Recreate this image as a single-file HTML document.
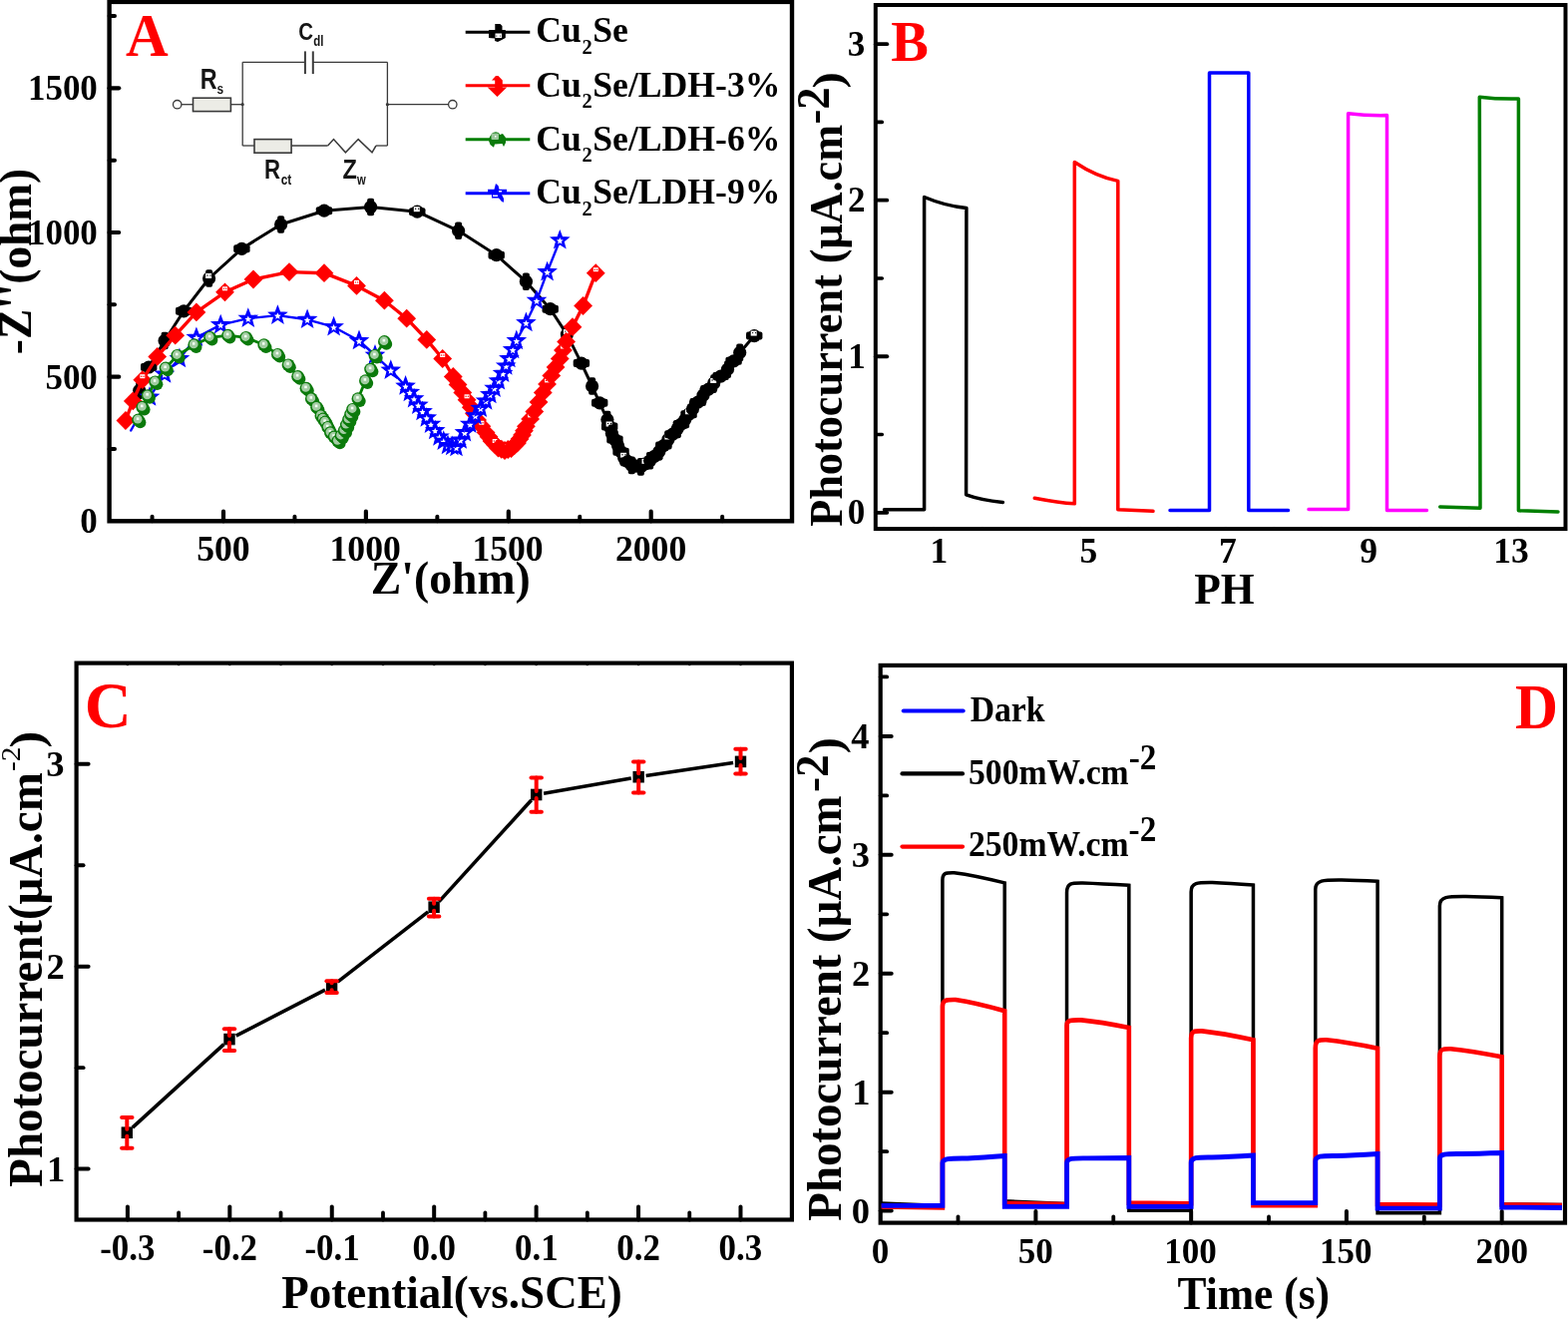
<!DOCTYPE html>
<html><head><meta charset="utf-8"><title>Figure</title>
<style>html,body{margin:0;padding:0;background:#fff;overflow:hidden;}svg{display:block;}</style></head>
<body><svg width="1572" height="1322" viewBox="0 0 1572 1322">
<rect width="1572" height="1322" fill="#fff"/>
<rect x="109.6" y="1.9" width="684.4" height="520.4" fill="none" stroke="#000" stroke-width="4.4" stroke-linejoin="miter"/>
<line x1="109.6" y1="377.65" x2="119.2" y2="377.65" stroke="#000" stroke-width="4.2" stroke-linecap="round"/>
<line x1="109.6" y1="233" x2="119.2" y2="233" stroke="#000" stroke-width="4.2" stroke-linecap="round"/>
<line x1="109.6" y1="88.35" x2="119.2" y2="88.35" stroke="#000" stroke-width="4.2" stroke-linecap="round"/>
<line x1="109.6" y1="449.97" x2="115" y2="449.97" stroke="#000" stroke-width="4" stroke-linecap="round"/>
<line x1="109.6" y1="305.32" x2="115" y2="305.32" stroke="#000" stroke-width="4" stroke-linecap="round"/>
<line x1="109.6" y1="160.67" x2="115" y2="160.67" stroke="#000" stroke-width="4" stroke-linecap="round"/>
<line x1="109.6" y1="16.02" x2="115" y2="16.02" stroke="#000" stroke-width="4" stroke-linecap="round"/>
<line x1="224" y1="522.3" x2="224" y2="512.7" stroke="#000" stroke-width="4.2" stroke-linecap="round"/>
<line x1="366.9" y1="522.3" x2="366.9" y2="512.7" stroke="#000" stroke-width="4.2" stroke-linecap="round"/>
<line x1="509.8" y1="522.3" x2="509.8" y2="512.7" stroke="#000" stroke-width="4.2" stroke-linecap="round"/>
<line x1="652.7" y1="522.3" x2="652.7" y2="512.7" stroke="#000" stroke-width="4.2" stroke-linecap="round"/>
<line x1="152.55" y1="522.3" x2="152.55" y2="517.7" stroke="#000" stroke-width="4" stroke-linecap="round"/>
<line x1="295.45" y1="522.3" x2="295.45" y2="517.7" stroke="#000" stroke-width="4" stroke-linecap="round"/>
<line x1="438.35" y1="522.3" x2="438.35" y2="517.7" stroke="#000" stroke-width="4" stroke-linecap="round"/>
<line x1="581.25" y1="522.3" x2="581.25" y2="517.7" stroke="#000" stroke-width="4" stroke-linecap="round"/>
<line x1="724.15" y1="522.3" x2="724.15" y2="517.7" stroke="#000" stroke-width="4" stroke-linecap="round"/>
<text x="80.37" y="534.3" font-family="'Liberation Serif', 'Times New Roman', serif" font-weight="bold" font-size="36" fill="#000" textLength="17.46" lengthAdjust="spacingAndGlyphs">0</text>
<text x="45.45" y="389.65" font-family="'Liberation Serif', 'Times New Roman', serif" font-weight="bold" font-size="36" fill="#000" textLength="52.38" lengthAdjust="spacingAndGlyphs">500</text>
<text x="27.99" y="245" font-family="'Liberation Serif', 'Times New Roman', serif" font-weight="bold" font-size="36" fill="#000" textLength="69.84" lengthAdjust="spacingAndGlyphs">1000</text>
<text x="27.99" y="100.35" font-family="'Liberation Serif', 'Times New Roman', serif" font-weight="bold" font-size="36" fill="#000" textLength="69.84" lengthAdjust="spacingAndGlyphs">1500</text>
<text x="197.24" y="561.5" font-family="'Liberation Serif', 'Times New Roman', serif" font-weight="bold" font-size="36" fill="#000" textLength="53.46" lengthAdjust="spacingAndGlyphs">500</text>
<text x="330.51" y="561.5" font-family="'Liberation Serif', 'Times New Roman', serif" font-weight="bold" font-size="36" fill="#000" textLength="71.28" lengthAdjust="spacingAndGlyphs">1000</text>
<text x="473.41" y="561.5" font-family="'Liberation Serif', 'Times New Roman', serif" font-weight="bold" font-size="36" fill="#000" textLength="71.28" lengthAdjust="spacingAndGlyphs">1500</text>
<text x="616.99" y="561.5" font-family="'Liberation Serif', 'Times New Roman', serif" font-weight="bold" font-size="36" fill="#000" textLength="71.28" lengthAdjust="spacingAndGlyphs">2000</text>
<text x="371.81" y="595.3" font-family="'Liberation Serif', 'Times New Roman', serif" font-weight="bold" font-size="45.5" fill="#000" textLength="160" lengthAdjust="spacingAndGlyphs">Z'(ohm)</text>
<g transform="translate(30.6,353.5) rotate(-90)">
<text x="-1.66" y="0" font-family="'Liberation Serif', 'Times New Roman', serif" font-weight="bold" font-size="45.5" fill="#000" textLength="186.25" lengthAdjust="spacingAndGlyphs">-Z''(ohm)</text>
</g>
<text x="126.12" y="56" font-family="'Liberation Serif', 'Times New Roman', serif" font-weight="bold" font-size="60.5" fill="#f00" textLength="42.71" lengthAdjust="spacingAndGlyphs">A</text>
<path d="M139.7 391.3 L149.2 368 L165.1 341.5 L184.2 311.8 L209.6 279 L242.4 249.3 L281.6 225 L325 211.2 L371.6 207.5 L418.3 212.2 L459.6 231.3 L497.7 255.7 L527.4 282.2 L551.7 309.7 L568.4 335.1 L582.9 364.1 L593.6 387 L601.2 403.8 L608.9 420.6 L613.4 434.4 L619.5 446.6 L625.6 458.8 L633.3 466.4 L642.4 467.9 L651.6 461.8 L660.8 452.7 L669.9 440.5 L679.1 429.8 L686.7 420.6 L694.4 409.9 L705 396.2 L715.7 384 L729.5 370.2 L741.7 353.4 L756.2 336.6" stroke="#000" stroke-width="3" fill="none" stroke-linejoin="round" stroke-linecap="round" />
<circle cx="139.7" cy="391.3" r="6.6" fill="#000"/>
<rect x="136.2" y="382.5" width="7" height="17.6" rx="2" fill="#000"/>
<circle cx="149.2" cy="368" r="6.6" fill="#000"/>
<rect x="141" y="364" width="16.4" height="8" rx="2" fill="#000"/>
<circle cx="165.1" cy="341.5" r="6.6" fill="#000"/>
<rect x="161.6" y="332.7" width="7" height="17.6" rx="2" fill="#000"/>
<circle cx="184.2" cy="311.8" r="6.6" fill="#000"/>
<rect x="176" y="307.8" width="16.4" height="8" rx="2" fill="#000"/>
<circle cx="209.6" cy="279" r="6.6" fill="#000"/>
<rect x="206.1" y="270.2" width="7" height="17.6" rx="2" fill="#000"/>
<rect x="206.1" y="274" width="6" height="5" fill="#fff"/><circle cx="208" cy="276" r="0.7" fill="#000"/><circle cx="211" cy="276" r="0.7" fill="#000"/>
<circle cx="242.4" cy="249.3" r="6.6" fill="#000"/>
<rect x="234.2" y="245.3" width="16.4" height="8" rx="2" fill="#000"/>
<circle cx="281.6" cy="225" r="6.6" fill="#000"/>
<rect x="278.1" y="216.2" width="7" height="17.6" rx="2" fill="#000"/>
<circle cx="325" cy="211.2" r="6.6" fill="#000"/>
<rect x="316.8" y="207.2" width="16.4" height="8" rx="2" fill="#000"/>
<circle cx="371.6" cy="207.5" r="6.6" fill="#000"/>
<rect x="368.1" y="198.7" width="7" height="17.6" rx="2" fill="#000"/>
<circle cx="418.3" cy="212.2" r="6.6" fill="#000"/>
<rect x="410.1" y="208.2" width="16.4" height="8" rx="2" fill="#000"/>
<rect x="414.8" y="207.2" width="6" height="5" fill="#fff"/><circle cx="416.7" cy="209.2" r="0.7" fill="#000"/><circle cx="419.7" cy="209.2" r="0.7" fill="#000"/>
<circle cx="459.6" cy="231.3" r="6.6" fill="#000"/>
<rect x="456.1" y="222.5" width="7" height="17.6" rx="2" fill="#000"/>
<circle cx="497.7" cy="255.7" r="6.6" fill="#000"/>
<rect x="489.5" y="251.7" width="16.4" height="8" rx="2" fill="#000"/>
<circle cx="527.4" cy="282.2" r="6.6" fill="#000"/>
<rect x="523.9" y="273.4" width="7" height="17.6" rx="2" fill="#000"/>
<circle cx="551.7" cy="309.7" r="6.6" fill="#000"/>
<rect x="543.5" y="305.7" width="16.4" height="8" rx="2" fill="#000"/>
<circle cx="568.4" cy="335.1" r="6.6" fill="#000"/>
<rect x="564.9" y="326.3" width="7" height="17.6" rx="2" fill="#000"/>
<rect x="564.9" y="330.1" width="6" height="5" fill="#fff"/><circle cx="566.8" cy="332.1" r="0.7" fill="#000"/><circle cx="569.8" cy="332.1" r="0.7" fill="#000"/>
<circle cx="582.9" cy="364.1" r="6.6" fill="#000"/>
<rect x="574.7" y="360.1" width="16.4" height="8" rx="2" fill="#000"/>
<circle cx="593.6" cy="387" r="6.6" fill="#000"/>
<rect x="590.1" y="378.2" width="7" height="17.6" rx="2" fill="#000"/>
<circle cx="601.2" cy="403.8" r="6.6" fill="#000"/>
<rect x="593" y="399.8" width="16.4" height="8" rx="2" fill="#000"/>
<circle cx="608.9" cy="420.6" r="6.6" fill="#000"/>
<rect x="605.4" y="411.8" width="7" height="17.6" rx="2" fill="#000"/>
<circle cx="611.15" cy="427.5" r="6.6" fill="#000"/>
<rect x="602.95" y="423.5" width="16.4" height="8" rx="2" fill="#000"/>
<rect x="607.65" y="422.5" width="6" height="5" fill="#fff"/><circle cx="609.55" cy="424.5" r="0.7" fill="#000"/><circle cx="612.55" cy="424.5" r="0.7" fill="#000"/>
<circle cx="613.4" cy="434.4" r="6.6" fill="#000"/>
<rect x="609.9" y="425.6" width="7" height="17.6" rx="2" fill="#000"/>
<circle cx="616.45" cy="440.5" r="6.6" fill="#000"/>
<rect x="608.25" y="436.5" width="16.4" height="8" rx="2" fill="#000"/>
<circle cx="619.5" cy="446.6" r="6.6" fill="#000"/>
<rect x="616" y="437.8" width="7" height="17.6" rx="2" fill="#000"/>
<circle cx="622.55" cy="452.7" r="6.6" fill="#000"/>
<rect x="614.35" y="448.7" width="16.4" height="8" rx="2" fill="#000"/>
<circle cx="625.6" cy="458.8" r="6.6" fill="#000"/>
<rect x="622.1" y="450" width="7" height="17.6" rx="2" fill="#000"/>
<rect x="622.1" y="453.8" width="6" height="5" fill="#fff"/><circle cx="624" cy="455.8" r="0.7" fill="#000"/><circle cx="627" cy="455.8" r="0.7" fill="#000"/>
<circle cx="629.45" cy="462.6" r="6.6" fill="#000"/>
<rect x="621.25" y="458.6" width="16.4" height="8" rx="2" fill="#000"/>
<circle cx="633.3" cy="466.4" r="6.6" fill="#000"/>
<rect x="629.8" y="457.6" width="7" height="17.6" rx="2" fill="#000"/>
<circle cx="637.85" cy="467.15" r="6.6" fill="#000"/>
<rect x="629.65" y="463.15" width="16.4" height="8" rx="2" fill="#000"/>
<circle cx="642.4" cy="467.9" r="6.6" fill="#000"/>
<rect x="638.9" y="459.1" width="7" height="17.6" rx="2" fill="#000"/>
<circle cx="647" cy="464.85" r="6.6" fill="#000"/>
<rect x="638.8" y="460.85" width="16.4" height="8" rx="2" fill="#000"/>
<rect x="643.5" y="459.85" width="6" height="5" fill="#fff"/><circle cx="645.4" cy="461.85" r="0.7" fill="#000"/><circle cx="648.4" cy="461.85" r="0.7" fill="#000"/>
<circle cx="651.6" cy="461.8" r="6.6" fill="#000"/>
<rect x="648.1" y="453" width="7" height="17.6" rx="2" fill="#000"/>
<circle cx="656.2" cy="457.25" r="6.6" fill="#000"/>
<rect x="648" y="453.25" width="16.4" height="8" rx="2" fill="#000"/>
<circle cx="660.8" cy="452.7" r="6.6" fill="#000"/>
<rect x="657.3" y="443.9" width="7" height="17.6" rx="2" fill="#000"/>
<circle cx="665.35" cy="446.6" r="6.6" fill="#000"/>
<rect x="657.15" y="442.6" width="16.4" height="8" rx="2" fill="#000"/>
<circle cx="669.9" cy="440.5" r="6.6" fill="#000"/>
<rect x="666.4" y="431.7" width="7" height="17.6" rx="2" fill="#000"/>
<rect x="666.4" y="435.5" width="6" height="5" fill="#fff"/><circle cx="668.3" cy="437.5" r="0.7" fill="#000"/><circle cx="671.3" cy="437.5" r="0.7" fill="#000"/>
<circle cx="674.5" cy="435.15" r="6.6" fill="#000"/>
<rect x="666.3" y="431.15" width="16.4" height="8" rx="2" fill="#000"/>
<circle cx="679.1" cy="429.8" r="6.6" fill="#000"/>
<rect x="675.6" y="421" width="7" height="17.6" rx="2" fill="#000"/>
<circle cx="682.9" cy="425.2" r="6.6" fill="#000"/>
<rect x="674.7" y="421.2" width="16.4" height="8" rx="2" fill="#000"/>
<circle cx="686.7" cy="420.6" r="6.6" fill="#000"/>
<rect x="683.2" y="411.8" width="7" height="17.6" rx="2" fill="#000"/>
<circle cx="690.55" cy="415.25" r="6.6" fill="#000"/>
<rect x="682.35" y="411.25" width="16.4" height="8" rx="2" fill="#000"/>
<rect x="687.05" y="410.25" width="6" height="5" fill="#fff"/><circle cx="688.95" cy="412.25" r="0.7" fill="#000"/><circle cx="691.95" cy="412.25" r="0.7" fill="#000"/>
<circle cx="694.4" cy="409.9" r="6.6" fill="#000"/>
<rect x="690.9" y="401.1" width="7" height="17.6" rx="2" fill="#000"/>
<circle cx="699.7" cy="403.05" r="6.6" fill="#000"/>
<rect x="691.5" y="399.05" width="16.4" height="8" rx="2" fill="#000"/>
<circle cx="705" cy="396.2" r="6.6" fill="#000"/>
<rect x="701.5" y="387.4" width="7" height="17.6" rx="2" fill="#000"/>
<circle cx="710.35" cy="390.1" r="6.6" fill="#000"/>
<rect x="702.15" y="386.1" width="16.4" height="8" rx="2" fill="#000"/>
<circle cx="715.7" cy="384" r="6.6" fill="#000"/>
<rect x="712.2" y="375.2" width="7" height="17.6" rx="2" fill="#000"/>
<rect x="712.2" y="379" width="6" height="5" fill="#fff"/><circle cx="714.1" cy="381" r="0.7" fill="#000"/><circle cx="717.1" cy="381" r="0.7" fill="#000"/>
<circle cx="722.6" cy="377.1" r="6.6" fill="#000"/>
<rect x="714.4" y="373.1" width="16.4" height="8" rx="2" fill="#000"/>
<circle cx="729.5" cy="370.2" r="6.6" fill="#000"/>
<rect x="726" y="361.4" width="7" height="17.6" rx="2" fill="#000"/>
<circle cx="735.6" cy="361.8" r="6.6" fill="#000"/>
<rect x="727.4" y="357.8" width="16.4" height="8" rx="2" fill="#000"/>
<circle cx="741.7" cy="353.4" r="6.6" fill="#000"/>
<rect x="738.2" y="344.6" width="7" height="17.6" rx="2" fill="#000"/>
<circle cx="756.2" cy="336.6" r="6.6" fill="#000"/>
<rect x="748" y="332.6" width="16.4" height="8" rx="2" fill="#000"/>
<rect x="752.7" y="331.6" width="6" height="5" fill="#fff"/><circle cx="754.6" cy="333.6" r="0.7" fill="#000"/><circle cx="757.6" cy="333.6" r="0.7" fill="#000"/>
<path d="M125.9 421.5 L133.3 401.9 L142.8 380.7 L157.7 357.4 L175.7 336.2 L196.9 312.9 L225.5 292.8 L254 280 L290 272.6 L325 273.7 L357.5 286.4 L385.4 301.2 L407.7 319.2 L427.8 340.4 L443.7 359.5 L454.3 377.5 L463.8 393.4 L472.3 408.2 L478.6 420.9 L487.1 433.6 L493 442 L499.5 449 L506 451.5 L512.5 449.5 L518.5 444 L523.5 436 L527.4 427.3 L535.8 412.5 L544.3 393.4 L552.8 376.4 L561.3 359.5 L567.6 342.5 L574 327.7 L584.6 306.5 L597.3 273.7" stroke="#f00" stroke-width="3.4" fill="none" stroke-linejoin="round" stroke-linecap="round" />
<path d="M125.9 412.1 L135.3 421.5 L125.9 430.9 L116.5 421.5 Z" fill="#f00"/>
<path d="M133.3 392.5 L142.7 401.9 L133.3 411.3 L123.9 401.9 Z" fill="#f00"/>
<path d="M142.8 371.3 L152.2 380.7 L142.8 390.1 L133.4 380.7 Z" fill="#f00"/>
<rect x="140.3" y="375.2" width="5" height="4" fill="#fff"/><circle cx="141.8" cy="377.2" r="0.7" fill="#f00"/><circle cx="144" cy="377.2" r="0.7" fill="#f00"/>
<path d="M157.7 348 L167.1 357.4 L157.7 366.8 L148.3 357.4 Z" fill="#f00"/>
<path d="M175.7 326.8 L185.1 336.2 L175.7 345.6 L166.3 336.2 Z" fill="#f00"/>
<path d="M196.9 303.5 L206.3 312.9 L196.9 322.3 L187.5 312.9 Z" fill="#f00"/>
<path d="M225.5 283.4 L234.9 292.8 L225.5 302.2 L216.1 292.8 Z" fill="#f00"/>
<rect x="223" y="287.3" width="5" height="4" fill="#fff"/><circle cx="224.5" cy="289.3" r="0.7" fill="#f00"/><circle cx="226.7" cy="289.3" r="0.7" fill="#f00"/>
<path d="M254 270.6 L263.4 280 L254 289.4 L244.6 280 Z" fill="#f00"/>
<path d="M290 263.2 L299.4 272.6 L290 282 L280.6 272.6 Z" fill="#f00"/>
<path d="M325 264.3 L334.4 273.7 L325 283.1 L315.6 273.7 Z" fill="#f00"/>
<path d="M357.5 277 L366.9 286.4 L357.5 295.8 L348.1 286.4 Z" fill="#f00"/>
<rect x="355" y="280.9" width="5" height="4" fill="#fff"/><circle cx="356.5" cy="282.9" r="0.7" fill="#f00"/><circle cx="358.7" cy="282.9" r="0.7" fill="#f00"/>
<path d="M385.4 291.8 L394.8 301.2 L385.4 310.6 L376 301.2 Z" fill="#f00"/>
<path d="M407.7 309.8 L417.1 319.2 L407.7 328.6 L398.3 319.2 Z" fill="#f00"/>
<path d="M427.8 331 L437.2 340.4 L427.8 349.8 L418.4 340.4 Z" fill="#f00"/>
<path d="M443.7 350.1 L453.1 359.5 L443.7 368.9 L434.3 359.5 Z" fill="#f00"/>
<rect x="441.2" y="354" width="5" height="4" fill="#fff"/><circle cx="442.7" cy="356" r="0.7" fill="#f00"/><circle cx="444.9" cy="356" r="0.7" fill="#f00"/>
<path d="M454.3 368.1 L463.7 377.5 L454.3 386.9 L444.9 377.5 Z" fill="#f00"/>
<path d="M459.05 376.05 L468.45 385.45 L459.05 394.85 L449.65 385.45 Z" fill="#f00"/>
<path d="M463.8 384 L473.2 393.4 L463.8 402.8 L454.4 393.4 Z" fill="#f00"/>
<path d="M468.05 391.4 L477.45 400.8 L468.05 410.2 L458.65 400.8 Z" fill="#f00"/>
<rect x="465.55" y="395.3" width="5" height="4" fill="#fff"/><circle cx="467.05" cy="397.3" r="0.7" fill="#f00"/><circle cx="469.25" cy="397.3" r="0.7" fill="#f00"/>
<path d="M472.3 398.8 L481.7 408.2 L472.3 417.6 L462.9 408.2 Z" fill="#f00"/>
<path d="M475.45 405.15 L484.85 414.55 L475.45 423.95 L466.05 414.55 Z" fill="#f00"/>
<path d="M478.6 411.5 L488 420.9 L478.6 430.3 L469.2 420.9 Z" fill="#f00"/>
<path d="M482.85 417.85 L492.25 427.25 L482.85 436.65 L473.45 427.25 Z" fill="#f00"/>
<rect x="480.35" y="421.75" width="5" height="4" fill="#fff"/><circle cx="481.85" cy="423.75" r="0.7" fill="#f00"/><circle cx="484.05" cy="423.75" r="0.7" fill="#f00"/>
<path d="M487.1 424.2 L496.5 433.6 L487.1 443 L477.7 433.6 Z" fill="#f00"/>
<path d="M490.05 428.4 L499.45 437.8 L490.05 447.2 L480.65 437.8 Z" fill="#f00"/>
<path d="M493 432.6 L502.4 442 L493 451.4 L483.6 442 Z" fill="#f00"/>
<path d="M496.25 436.1 L505.65 445.5 L496.25 454.9 L486.85 445.5 Z" fill="#f00"/>
<rect x="493.75" y="440" width="5" height="4" fill="#fff"/><circle cx="495.25" cy="442" r="0.7" fill="#f00"/><circle cx="497.45" cy="442" r="0.7" fill="#f00"/>
<path d="M499.5 439.6 L508.9 449 L499.5 458.4 L490.1 449 Z" fill="#f00"/>
<path d="M502.75 440.85 L512.15 450.25 L502.75 459.65 L493.35 450.25 Z" fill="#f00"/>
<path d="M506 442.1 L515.4 451.5 L506 460.9 L496.6 451.5 Z" fill="#f00"/>
<path d="M509.25 441.1 L518.65 450.5 L509.25 459.9 L499.85 450.5 Z" fill="#f00"/>
<rect x="506.75" y="445" width="5" height="4" fill="#fff"/><circle cx="508.25" cy="447" r="0.7" fill="#f00"/><circle cx="510.45" cy="447" r="0.7" fill="#f00"/>
<path d="M512.5 440.1 L521.9 449.5 L512.5 458.9 L503.1 449.5 Z" fill="#f00"/>
<path d="M515.5 437.35 L524.9 446.75 L515.5 456.15 L506.1 446.75 Z" fill="#f00"/>
<path d="M518.5 434.6 L527.9 444 L518.5 453.4 L509.1 444 Z" fill="#f00"/>
<path d="M521 430.6 L530.4 440 L521 449.4 L511.6 440 Z" fill="#f00"/>
<rect x="518.5" y="434.5" width="5" height="4" fill="#fff"/><circle cx="520" cy="436.5" r="0.7" fill="#f00"/><circle cx="522.2" cy="436.5" r="0.7" fill="#f00"/>
<path d="M523.5 426.6 L532.9 436 L523.5 445.4 L514.1 436 Z" fill="#f00"/>
<path d="M525.45 422.25 L534.85 431.65 L525.45 441.05 L516.05 431.65 Z" fill="#f00"/>
<path d="M527.4 417.9 L536.8 427.3 L527.4 436.7 L518 427.3 Z" fill="#f00"/>
<path d="M531.6 410.5 L541 419.9 L531.6 429.3 L522.2 419.9 Z" fill="#f00"/>
<rect x="529.1" y="414.4" width="5" height="4" fill="#fff"/><circle cx="530.6" cy="416.4" r="0.7" fill="#f00"/><circle cx="532.8" cy="416.4" r="0.7" fill="#f00"/>
<path d="M535.8 403.1 L545.2 412.5 L535.8 421.9 L526.4 412.5 Z" fill="#f00"/>
<path d="M540.05 393.55 L549.45 402.95 L540.05 412.35 L530.65 402.95 Z" fill="#f00"/>
<path d="M544.3 384 L553.7 393.4 L544.3 402.8 L534.9 393.4 Z" fill="#f00"/>
<path d="M548.55 375.5 L557.95 384.9 L548.55 394.3 L539.15 384.9 Z" fill="#f00"/>
<rect x="546.05" y="379.4" width="5" height="4" fill="#fff"/><circle cx="547.55" cy="381.4" r="0.7" fill="#f00"/><circle cx="549.75" cy="381.4" r="0.7" fill="#f00"/>
<path d="M552.8 367 L562.2 376.4 L552.8 385.8 L543.4 376.4 Z" fill="#f00"/>
<path d="M557.05 358.55 L566.45 367.95 L557.05 377.35 L547.65 367.95 Z" fill="#f00"/>
<path d="M561.3 350.1 L570.7 359.5 L561.3 368.9 L551.9 359.5 Z" fill="#f00"/>
<path d="M564.45 341.6 L573.85 351 L564.45 360.4 L555.05 351 Z" fill="#f00"/>
<rect x="561.95" y="345.5" width="5" height="4" fill="#fff"/><circle cx="563.45" cy="347.5" r="0.7" fill="#f00"/><circle cx="565.65" cy="347.5" r="0.7" fill="#f00"/>
<path d="M567.6 333.1 L577 342.5 L567.6 351.9 L558.2 342.5 Z" fill="#f00"/>
<path d="M574 318.3 L583.4 327.7 L574 337.1 L564.6 327.7 Z" fill="#f00"/>
<path d="M584.6 297.1 L594 306.5 L584.6 315.9 L575.2 306.5 Z" fill="#f00"/>
<path d="M597.3 264.3 L606.7 273.7 L597.3 283.1 L587.9 273.7 Z" fill="#f00"/>
<rect x="594.8" y="268.2" width="5" height="4" fill="#fff"/><circle cx="596.3" cy="270.2" r="0.7" fill="#f00"/><circle cx="598.5" cy="270.2" r="0.7" fill="#f00"/>
<path d="M131.2 431.5 L150 398 L165 375 L179.9 359.5 L196.9 338.3 L221.2 325.6 L248.8 319.2 L278.4 316.1 L308.1 320.3 L334.6 327.7 L360 341.5 L376 356 L391.8 371.1 L406.6 387 L415.1 399.7 L423.6 412.5 L432 425.2 L440.5 437.9 L449 446.4 L457.5 448.5 L465.9 433.6 L476.5 416.7 L487.1 401.9 L495.6 389.2 L504.1 374.3 L510.4 359.5 L517.8 341.5 L527.4 323.5 L538 301.2 L548.6 272.6 L561.3 240.8" stroke="#00f" stroke-width="2.4" fill="none" stroke-linejoin="round" stroke-linecap="round" />
<path d="M150 388.8 L152.29 394.84 L158.75 395.16 L153.71 399.21 L155.41 405.44 L150 401.9 L144.59 405.44 L146.29 399.21 L141.25 395.16 L147.71 394.84 Z" fill="#00f" stroke="#00f" stroke-width="1.2" stroke-linejoin="miter"/>
<path d="M150 395.2 L150.94 397.51 L153.42 397.69 L151.52 399.29 L152.12 401.71 L150 400.4 L147.88 401.71 L148.48 399.29 L146.58 397.69 L149.06 397.51 Z" fill="#fff"/>
<path d="M165 365.8 L167.29 371.84 L173.75 372.16 L168.71 376.21 L170.41 382.44 L165 378.9 L159.59 382.44 L161.29 376.21 L156.25 372.16 L162.71 371.84 Z" fill="#00f" stroke="#00f" stroke-width="1.2" stroke-linejoin="miter"/>
<path d="M165 372.2 L165.94 374.51 L168.42 374.69 L166.52 376.29 L167.12 378.71 L165 377.4 L162.88 378.71 L163.48 376.29 L161.58 374.69 L164.06 374.51 Z" fill="#fff"/>
<path d="M179.9 350.3 L182.19 356.34 L188.65 356.66 L183.61 360.71 L185.31 366.94 L179.9 363.4 L174.49 366.94 L176.19 360.71 L171.15 356.66 L177.61 356.34 Z" fill="#00f" stroke="#00f" stroke-width="1.2" stroke-linejoin="miter"/>
<path d="M179.9 356.7 L180.84 359.01 L183.32 359.19 L181.42 360.79 L182.02 363.21 L179.9 361.9 L177.78 363.21 L178.38 360.79 L176.48 359.19 L178.96 359.01 Z" fill="#fff"/>
<path d="M196.9 329.1 L199.19 335.14 L205.65 335.46 L200.61 339.51 L202.31 345.74 L196.9 342.2 L191.49 345.74 L193.19 339.51 L188.15 335.46 L194.61 335.14 Z" fill="#00f" stroke="#00f" stroke-width="1.2" stroke-linejoin="miter"/>
<path d="M196.9 335.5 L197.84 337.81 L200.32 337.99 L198.42 339.59 L199.02 342.01 L196.9 340.7 L194.78 342.01 L195.38 339.59 L193.48 337.99 L195.96 337.81 Z" fill="#fff"/>
<path d="M221.2 316.4 L223.49 322.44 L229.95 322.76 L224.91 326.81 L226.61 333.04 L221.2 329.5 L215.79 333.04 L217.49 326.81 L212.45 322.76 L218.91 322.44 Z" fill="#00f" stroke="#00f" stroke-width="1.2" stroke-linejoin="miter"/>
<path d="M221.2 322.8 L222.14 325.11 L224.62 325.29 L222.72 326.89 L223.32 329.31 L221.2 328 L219.08 329.31 L219.68 326.89 L217.78 325.29 L220.26 325.11 Z" fill="#fff"/>
<path d="M248.8 310 L251.09 316.04 L257.55 316.36 L252.51 320.41 L254.21 326.64 L248.8 323.1 L243.39 326.64 L245.09 320.41 L240.05 316.36 L246.51 316.04 Z" fill="#00f" stroke="#00f" stroke-width="1.2" stroke-linejoin="miter"/>
<path d="M248.8 316.4 L249.74 318.71 L252.22 318.89 L250.32 320.49 L250.92 322.91 L248.8 321.6 L246.68 322.91 L247.28 320.49 L245.38 318.89 L247.86 318.71 Z" fill="#fff"/>
<path d="M278.4 306.9 L280.69 312.94 L287.15 313.26 L282.11 317.31 L283.81 323.54 L278.4 320 L272.99 323.54 L274.69 317.31 L269.65 313.26 L276.11 312.94 Z" fill="#00f" stroke="#00f" stroke-width="1.2" stroke-linejoin="miter"/>
<path d="M278.4 313.3 L279.34 315.61 L281.82 315.79 L279.92 317.39 L280.52 319.81 L278.4 318.5 L276.28 319.81 L276.88 317.39 L274.98 315.79 L277.46 315.61 Z" fill="#fff"/>
<path d="M308.1 311.1 L310.39 317.14 L316.85 317.46 L311.81 321.51 L313.51 327.74 L308.1 324.2 L302.69 327.74 L304.39 321.51 L299.35 317.46 L305.81 317.14 Z" fill="#00f" stroke="#00f" stroke-width="1.2" stroke-linejoin="miter"/>
<path d="M308.1 317.5 L309.04 319.81 L311.52 319.99 L309.62 321.59 L310.22 324.01 L308.1 322.7 L305.98 324.01 L306.58 321.59 L304.68 319.99 L307.16 319.81 Z" fill="#fff"/>
<path d="M334.6 318.5 L336.89 324.54 L343.35 324.86 L338.31 328.91 L340.01 335.14 L334.6 331.6 L329.19 335.14 L330.89 328.91 L325.85 324.86 L332.31 324.54 Z" fill="#00f" stroke="#00f" stroke-width="1.2" stroke-linejoin="miter"/>
<path d="M334.6 324.9 L335.54 327.21 L338.02 327.39 L336.12 328.99 L336.72 331.41 L334.6 330.1 L332.48 331.41 L333.08 328.99 L331.18 327.39 L333.66 327.21 Z" fill="#fff"/>
<path d="M360 332.3 L362.29 338.34 L368.75 338.66 L363.71 342.71 L365.41 348.94 L360 345.4 L354.59 348.94 L356.29 342.71 L351.25 338.66 L357.71 338.34 Z" fill="#00f" stroke="#00f" stroke-width="1.2" stroke-linejoin="miter"/>
<path d="M360 338.7 L360.94 341.01 L363.42 341.19 L361.52 342.79 L362.12 345.21 L360 343.9 L357.88 345.21 L358.48 342.79 L356.58 341.19 L359.06 341.01 Z" fill="#fff"/>
<path d="M376 346.8 L378.29 352.84 L384.75 353.16 L379.71 357.21 L381.41 363.44 L376 359.9 L370.59 363.44 L372.29 357.21 L367.25 353.16 L373.71 352.84 Z" fill="#00f" stroke="#00f" stroke-width="1.2" stroke-linejoin="miter"/>
<path d="M376 353.2 L376.94 355.51 L379.42 355.69 L377.52 357.29 L378.12 359.71 L376 358.4 L373.88 359.71 L374.48 357.29 L372.58 355.69 L375.06 355.51 Z" fill="#fff"/>
<path d="M391.8 361.9 L394.09 367.94 L400.55 368.26 L395.51 372.31 L397.21 378.54 L391.8 375 L386.39 378.54 L388.09 372.31 L383.05 368.26 L389.51 367.94 Z" fill="#00f" stroke="#00f" stroke-width="1.2" stroke-linejoin="miter"/>
<path d="M391.8 368.3 L392.74 370.61 L395.22 370.79 L393.32 372.39 L393.92 374.81 L391.8 373.5 L389.68 374.81 L390.28 372.39 L388.38 370.79 L390.86 370.61 Z" fill="#fff"/>
<path d="M406.6 377.8 L408.89 383.84 L415.35 384.16 L410.31 388.21 L412.01 394.44 L406.6 390.9 L401.19 394.44 L402.89 388.21 L397.85 384.16 L404.31 383.84 Z" fill="#00f" stroke="#00f" stroke-width="1.2" stroke-linejoin="miter"/>
<path d="M406.6 384.2 L407.54 386.51 L410.02 386.69 L408.12 388.29 L408.72 390.71 L406.6 389.4 L404.48 390.71 L405.08 388.29 L403.18 386.69 L405.66 386.51 Z" fill="#fff"/>
<path d="M410.85 384.15 L413.14 390.19 L419.6 390.51 L414.56 394.56 L416.26 400.79 L410.85 397.25 L405.44 400.79 L407.14 394.56 L402.1 390.51 L408.56 390.19 Z" fill="#00f" stroke="#00f" stroke-width="1.2" stroke-linejoin="miter"/>
<path d="M410.85 390.55 L411.79 392.86 L414.27 393.04 L412.37 394.64 L412.97 397.06 L410.85 395.75 L408.73 397.06 L409.33 394.64 L407.43 393.04 L409.91 392.86 Z" fill="#fff"/>
<path d="M415.1 390.5 L417.39 396.54 L423.85 396.86 L418.81 400.91 L420.51 407.14 L415.1 403.6 L409.69 407.14 L411.39 400.91 L406.35 396.86 L412.81 396.54 Z" fill="#00f" stroke="#00f" stroke-width="1.2" stroke-linejoin="miter"/>
<path d="M415.1 396.9 L416.04 399.21 L418.52 399.39 L416.62 400.99 L417.22 403.41 L415.1 402.1 L412.98 403.41 L413.58 400.99 L411.68 399.39 L414.16 399.21 Z" fill="#fff"/>
<path d="M419.35 396.9 L421.64 402.94 L428.1 403.26 L423.06 407.31 L424.76 413.54 L419.35 410 L413.94 413.54 L415.64 407.31 L410.6 403.26 L417.06 402.94 Z" fill="#00f" stroke="#00f" stroke-width="1.2" stroke-linejoin="miter"/>
<path d="M419.35 403.3 L420.29 405.61 L422.77 405.79 L420.87 407.39 L421.47 409.81 L419.35 408.5 L417.23 409.81 L417.83 407.39 L415.93 405.79 L418.41 405.61 Z" fill="#fff"/>
<path d="M423.6 403.3 L425.89 409.34 L432.35 409.66 L427.31 413.71 L429.01 419.94 L423.6 416.4 L418.19 419.94 L419.89 413.71 L414.85 409.66 L421.31 409.34 Z" fill="#00f" stroke="#00f" stroke-width="1.2" stroke-linejoin="miter"/>
<path d="M423.6 409.7 L424.54 412.01 L427.02 412.19 L425.12 413.79 L425.72 416.21 L423.6 414.9 L421.48 416.21 L422.08 413.79 L420.18 412.19 L422.66 412.01 Z" fill="#fff"/>
<path d="M427.8 409.65 L430.09 415.69 L436.55 416.01 L431.51 420.06 L433.21 426.29 L427.8 422.75 L422.39 426.29 L424.09 420.06 L419.05 416.01 L425.51 415.69 Z" fill="#00f" stroke="#00f" stroke-width="1.2" stroke-linejoin="miter"/>
<path d="M427.8 416.05 L428.74 418.36 L431.22 418.54 L429.32 420.14 L429.92 422.56 L427.8 421.25 L425.68 422.56 L426.28 420.14 L424.38 418.54 L426.86 418.36 Z" fill="#fff"/>
<path d="M432 416 L434.29 422.04 L440.75 422.36 L435.71 426.41 L437.41 432.64 L432 429.1 L426.59 432.64 L428.29 426.41 L423.25 422.36 L429.71 422.04 Z" fill="#00f" stroke="#00f" stroke-width="1.2" stroke-linejoin="miter"/>
<path d="M432 422.4 L432.94 424.71 L435.42 424.89 L433.52 426.49 L434.12 428.91 L432 427.6 L429.88 428.91 L430.48 426.49 L428.58 424.89 L431.06 424.71 Z" fill="#fff"/>
<path d="M436.25 422.35 L438.54 428.39 L445 428.71 L439.96 432.76 L441.66 438.99 L436.25 435.45 L430.84 438.99 L432.54 432.76 L427.5 428.71 L433.96 428.39 Z" fill="#00f" stroke="#00f" stroke-width="1.2" stroke-linejoin="miter"/>
<path d="M436.25 428.75 L437.19 431.06 L439.67 431.24 L437.77 432.84 L438.37 435.26 L436.25 433.95 L434.13 435.26 L434.73 432.84 L432.83 431.24 L435.31 431.06 Z" fill="#fff"/>
<path d="M440.5 428.7 L442.79 434.74 L449.25 435.06 L444.21 439.11 L445.91 445.34 L440.5 441.8 L435.09 445.34 L436.79 439.11 L431.75 435.06 L438.21 434.74 Z" fill="#00f" stroke="#00f" stroke-width="1.2" stroke-linejoin="miter"/>
<path d="M440.5 435.1 L441.44 437.41 L443.92 437.59 L442.02 439.19 L442.62 441.61 L440.5 440.3 L438.38 441.61 L438.98 439.19 L437.08 437.59 L439.56 437.41 Z" fill="#fff"/>
<path d="M444.75 432.95 L447.04 438.99 L453.5 439.31 L448.46 443.36 L450.16 449.59 L444.75 446.05 L439.34 449.59 L441.04 443.36 L436 439.31 L442.46 438.99 Z" fill="#00f" stroke="#00f" stroke-width="1.2" stroke-linejoin="miter"/>
<path d="M444.75 439.35 L445.69 441.66 L448.17 441.84 L446.27 443.44 L446.87 445.86 L444.75 444.55 L442.63 445.86 L443.23 443.44 L441.33 441.84 L443.81 441.66 Z" fill="#fff"/>
<path d="M449 437.2 L451.29 443.24 L457.75 443.56 L452.71 447.61 L454.41 453.84 L449 450.3 L443.59 453.84 L445.29 447.61 L440.25 443.56 L446.71 443.24 Z" fill="#00f" stroke="#00f" stroke-width="1.2" stroke-linejoin="miter"/>
<path d="M449 443.6 L449.94 445.91 L452.42 446.09 L450.52 447.69 L451.12 450.11 L449 448.8 L446.88 450.11 L447.48 447.69 L445.58 446.09 L448.06 445.91 Z" fill="#fff"/>
<path d="M453.25 438.25 L455.54 444.29 L462 444.61 L456.96 448.66 L458.66 454.89 L453.25 451.35 L447.84 454.89 L449.54 448.66 L444.5 444.61 L450.96 444.29 Z" fill="#00f" stroke="#00f" stroke-width="1.2" stroke-linejoin="miter"/>
<path d="M453.25 444.65 L454.19 446.96 L456.67 447.14 L454.77 448.74 L455.37 451.16 L453.25 449.85 L451.13 451.16 L451.73 448.74 L449.83 447.14 L452.31 446.96 Z" fill="#fff"/>
<path d="M457.5 439.3 L459.79 445.34 L466.25 445.66 L461.21 449.71 L462.91 455.94 L457.5 452.4 L452.09 455.94 L453.79 449.71 L448.75 445.66 L455.21 445.34 Z" fill="#00f" stroke="#00f" stroke-width="1.2" stroke-linejoin="miter"/>
<path d="M457.5 445.7 L458.44 448.01 L460.92 448.19 L459.02 449.79 L459.62 452.21 L457.5 450.9 L455.38 452.21 L455.98 449.79 L454.08 448.19 L456.56 448.01 Z" fill="#fff"/>
<path d="M461.7 431.85 L463.99 437.89 L470.45 438.21 L465.41 442.26 L467.11 448.49 L461.7 444.95 L456.29 448.49 L457.99 442.26 L452.95 438.21 L459.41 437.89 Z" fill="#00f" stroke="#00f" stroke-width="1.2" stroke-linejoin="miter"/>
<path d="M461.7 438.25 L462.64 440.56 L465.12 440.74 L463.22 442.34 L463.82 444.76 L461.7 443.45 L459.58 444.76 L460.18 442.34 L458.28 440.74 L460.76 440.56 Z" fill="#fff"/>
<path d="M465.9 424.4 L468.19 430.44 L474.65 430.76 L469.61 434.81 L471.31 441.04 L465.9 437.5 L460.49 441.04 L462.19 434.81 L457.15 430.76 L463.61 430.44 Z" fill="#00f" stroke="#00f" stroke-width="1.2" stroke-linejoin="miter"/>
<path d="M465.9 430.8 L466.84 433.11 L469.32 433.29 L467.42 434.89 L468.02 437.31 L465.9 436 L463.78 437.31 L464.38 434.89 L462.48 433.29 L464.96 433.11 Z" fill="#fff"/>
<path d="M471.2 415.95 L473.49 421.99 L479.95 422.31 L474.91 426.36 L476.61 432.59 L471.2 429.05 L465.79 432.59 L467.49 426.36 L462.45 422.31 L468.91 421.99 Z" fill="#00f" stroke="#00f" stroke-width="1.2" stroke-linejoin="miter"/>
<path d="M471.2 422.35 L472.14 424.66 L474.62 424.84 L472.72 426.44 L473.32 428.86 L471.2 427.55 L469.08 428.86 L469.68 426.44 L467.78 424.84 L470.26 424.66 Z" fill="#fff"/>
<path d="M476.5 407.5 L478.79 413.54 L485.25 413.86 L480.21 417.91 L481.91 424.14 L476.5 420.6 L471.09 424.14 L472.79 417.91 L467.75 413.86 L474.21 413.54 Z" fill="#00f" stroke="#00f" stroke-width="1.2" stroke-linejoin="miter"/>
<path d="M476.5 413.9 L477.44 416.21 L479.92 416.39 L478.02 417.99 L478.62 420.41 L476.5 419.1 L474.38 420.41 L474.98 417.99 L473.08 416.39 L475.56 416.21 Z" fill="#fff"/>
<path d="M481.8 400.1 L484.09 406.14 L490.55 406.46 L485.51 410.51 L487.21 416.74 L481.8 413.2 L476.39 416.74 L478.09 410.51 L473.05 406.46 L479.51 406.14 Z" fill="#00f" stroke="#00f" stroke-width="1.2" stroke-linejoin="miter"/>
<path d="M481.8 406.5 L482.74 408.81 L485.22 408.99 L483.32 410.59 L483.92 413.01 L481.8 411.7 L479.68 413.01 L480.28 410.59 L478.38 408.99 L480.86 408.81 Z" fill="#fff"/>
<path d="M487.1 392.7 L489.39 398.74 L495.85 399.06 L490.81 403.11 L492.51 409.34 L487.1 405.8 L481.69 409.34 L483.39 403.11 L478.35 399.06 L484.81 398.74 Z" fill="#00f" stroke="#00f" stroke-width="1.2" stroke-linejoin="miter"/>
<path d="M487.1 399.1 L488.04 401.41 L490.52 401.59 L488.62 403.19 L489.22 405.61 L487.1 404.3 L484.98 405.61 L485.58 403.19 L483.68 401.59 L486.16 401.41 Z" fill="#fff"/>
<path d="M491.35 386.35 L493.64 392.39 L500.1 392.71 L495.06 396.76 L496.76 402.99 L491.35 399.45 L485.94 402.99 L487.64 396.76 L482.6 392.71 L489.06 392.39 Z" fill="#00f" stroke="#00f" stroke-width="1.2" stroke-linejoin="miter"/>
<path d="M491.35 392.75 L492.29 395.06 L494.77 395.24 L492.87 396.84 L493.47 399.26 L491.35 397.95 L489.23 399.26 L489.83 396.84 L487.93 395.24 L490.41 395.06 Z" fill="#fff"/>
<path d="M495.6 380 L497.89 386.04 L504.35 386.36 L499.31 390.41 L501.01 396.64 L495.6 393.1 L490.19 396.64 L491.89 390.41 L486.85 386.36 L493.31 386.04 Z" fill="#00f" stroke="#00f" stroke-width="1.2" stroke-linejoin="miter"/>
<path d="M495.6 386.4 L496.54 388.71 L499.02 388.89 L497.12 390.49 L497.72 392.91 L495.6 391.6 L493.48 392.91 L494.08 390.49 L492.18 388.89 L494.66 388.71 Z" fill="#fff"/>
<path d="M499.85 372.55 L502.14 378.59 L508.6 378.91 L503.56 382.96 L505.26 389.19 L499.85 385.65 L494.44 389.19 L496.14 382.96 L491.1 378.91 L497.56 378.59 Z" fill="#00f" stroke="#00f" stroke-width="1.2" stroke-linejoin="miter"/>
<path d="M499.85 378.95 L500.79 381.26 L503.27 381.44 L501.37 383.04 L501.97 385.46 L499.85 384.15 L497.73 385.46 L498.33 383.04 L496.43 381.44 L498.91 381.26 Z" fill="#fff"/>
<path d="M504.1 365.1 L506.39 371.14 L512.85 371.46 L507.81 375.51 L509.51 381.74 L504.1 378.2 L498.69 381.74 L500.39 375.51 L495.35 371.46 L501.81 371.14 Z" fill="#00f" stroke="#00f" stroke-width="1.2" stroke-linejoin="miter"/>
<path d="M504.1 371.5 L505.04 373.81 L507.52 373.99 L505.62 375.59 L506.22 378.01 L504.1 376.7 L501.98 378.01 L502.58 375.59 L500.68 373.99 L503.16 373.81 Z" fill="#fff"/>
<path d="M507.25 357.7 L509.54 363.74 L516 364.06 L510.96 368.11 L512.66 374.34 L507.25 370.8 L501.84 374.34 L503.54 368.11 L498.5 364.06 L504.96 363.74 Z" fill="#00f" stroke="#00f" stroke-width="1.2" stroke-linejoin="miter"/>
<path d="M507.25 364.1 L508.19 366.41 L510.67 366.59 L508.77 368.19 L509.37 370.61 L507.25 369.3 L505.13 370.61 L505.73 368.19 L503.83 366.59 L506.31 366.41 Z" fill="#fff"/>
<path d="M510.4 350.3 L512.69 356.34 L519.15 356.66 L514.11 360.71 L515.81 366.94 L510.4 363.4 L504.99 366.94 L506.69 360.71 L501.65 356.66 L508.11 356.34 Z" fill="#00f" stroke="#00f" stroke-width="1.2" stroke-linejoin="miter"/>
<path d="M510.4 356.7 L511.34 359.01 L513.82 359.19 L511.92 360.79 L512.52 363.21 L510.4 361.9 L508.28 363.21 L508.88 360.79 L506.98 359.19 L509.46 359.01 Z" fill="#fff"/>
<path d="M514.1 341.3 L516.39 347.34 L522.85 347.66 L517.81 351.71 L519.51 357.94 L514.1 354.4 L508.69 357.94 L510.39 351.71 L505.35 347.66 L511.81 347.34 Z" fill="#00f" stroke="#00f" stroke-width="1.2" stroke-linejoin="miter"/>
<path d="M514.1 347.7 L515.04 350.01 L517.52 350.19 L515.62 351.79 L516.22 354.21 L514.1 352.9 L511.98 354.21 L512.58 351.79 L510.68 350.19 L513.16 350.01 Z" fill="#fff"/>
<path d="M517.8 332.3 L520.09 338.34 L526.55 338.66 L521.51 342.71 L523.21 348.94 L517.8 345.4 L512.39 348.94 L514.09 342.71 L509.05 338.66 L515.51 338.34 Z" fill="#00f" stroke="#00f" stroke-width="1.2" stroke-linejoin="miter"/>
<path d="M517.8 338.7 L518.74 341.01 L521.22 341.19 L519.32 342.79 L519.92 345.21 L517.8 343.9 L515.68 345.21 L516.28 342.79 L514.38 341.19 L516.86 341.01 Z" fill="#fff"/>
<path d="M527.4 314.3 L529.69 320.34 L536.15 320.66 L531.11 324.71 L532.81 330.94 L527.4 327.4 L521.99 330.94 L523.69 324.71 L518.65 320.66 L525.11 320.34 Z" fill="#00f" stroke="#00f" stroke-width="1.2" stroke-linejoin="miter"/>
<path d="M527.4 320.7 L528.34 323.01 L530.82 323.19 L528.92 324.79 L529.52 327.21 L527.4 325.9 L525.28 327.21 L525.88 324.79 L523.98 323.19 L526.46 323.01 Z" fill="#fff"/>
<path d="M538 292 L540.29 298.04 L546.75 298.36 L541.71 302.41 L543.41 308.64 L538 305.1 L532.59 308.64 L534.29 302.41 L529.25 298.36 L535.71 298.04 Z" fill="#00f" stroke="#00f" stroke-width="1.2" stroke-linejoin="miter"/>
<path d="M538 298.4 L538.94 300.71 L541.42 300.89 L539.52 302.49 L540.12 304.91 L538 303.6 L535.88 304.91 L536.48 302.49 L534.58 300.89 L537.06 300.71 Z" fill="#fff"/>
<path d="M548.6 263.4 L550.89 269.44 L557.35 269.76 L552.31 273.81 L554.01 280.04 L548.6 276.5 L543.19 280.04 L544.89 273.81 L539.85 269.76 L546.31 269.44 Z" fill="#00f" stroke="#00f" stroke-width="1.2" stroke-linejoin="miter"/>
<path d="M548.6 269.8 L549.54 272.11 L552.02 272.29 L550.12 273.89 L550.72 276.31 L548.6 275 L546.48 276.31 L547.08 273.89 L545.18 272.29 L547.66 272.11 Z" fill="#fff"/>
<path d="M561.3 231.6 L563.59 237.64 L570.05 237.96 L565.01 242.01 L566.71 248.24 L561.3 244.7 L555.89 248.24 L557.59 242.01 L552.55 237.96 L559.01 237.64 Z" fill="#00f" stroke="#00f" stroke-width="1.2" stroke-linejoin="miter"/>
<path d="M561.3 238 L562.24 240.31 L564.72 240.49 L562.82 242.09 L563.42 244.51 L561.3 243.2 L559.18 244.51 L559.78 242.09 L557.88 240.49 L560.36 240.31 Z" fill="#fff"/>
<path d="M138.6 421 L142.8 408.2 L148.1 396.6 L155.6 382.8 L166.1 369 L177.8 356.3 L194.7 345.7 L210.6 338.3 L228.6 336.2 L246.7 338.3 L264.7 345.7 L278.4 355.3 L289 365.8 L298.6 377.5 L307 389.2 L312.3 399.7 L317.6 408.2 L321.9 416.7 L326.1 423 L331.4 433.6 L338.8 442.1 L345.2 431.5 L349.5 420.5 L353.6 410.3 L358.9 399.7 L366.4 381.7 L371.6 370.1 L375.9 356.3 L385.4 342.5" stroke="#007f00" stroke-width="2.8" fill="none" stroke-linejoin="round" stroke-linecap="round" />
<circle cx="140.6" cy="423.4" r="5.8" fill="#0b7a0b"/>
<circle cx="138.6" cy="421" r="6.4" fill="#0b7a0b"/>
<circle cx="138.1" cy="420.2" r="4.4" fill="#a3cca3"/>
<rect x="136.8" y="418.4" width="2.6" height="2.6" fill="#f4fff4"/>
<circle cx="144.8" cy="410.6" r="5.8" fill="#0b7a0b"/>
<circle cx="142.8" cy="408.2" r="6.4" fill="#0b7a0b"/>
<circle cx="142.3" cy="407.4" r="4.4" fill="#a3cca3"/>
<rect x="141" y="405.6" width="2.6" height="2.6" fill="#f4fff4"/>
<circle cx="150.1" cy="399" r="5.8" fill="#0b7a0b"/>
<circle cx="148.1" cy="396.6" r="6.4" fill="#0b7a0b"/>
<circle cx="147.6" cy="395.8" r="4.4" fill="#a3cca3"/>
<rect x="146.3" y="394" width="2.6" height="2.6" fill="#f4fff4"/>
<circle cx="157.6" cy="385.2" r="5.8" fill="#0b7a0b"/>
<circle cx="155.6" cy="382.8" r="6.4" fill="#0b7a0b"/>
<circle cx="155.1" cy="382" r="4.4" fill="#a3cca3"/>
<rect x="153.8" y="380.2" width="2.6" height="2.6" fill="#f4fff4"/>
<circle cx="168.1" cy="371.4" r="5.8" fill="#0b7a0b"/>
<circle cx="166.1" cy="369" r="6.4" fill="#0b7a0b"/>
<circle cx="165.6" cy="368.2" r="4.4" fill="#a3cca3"/>
<rect x="164.3" y="366.4" width="2.6" height="2.6" fill="#f4fff4"/>
<circle cx="179.8" cy="358.7" r="5.8" fill="#0b7a0b"/>
<circle cx="177.8" cy="356.3" r="6.4" fill="#0b7a0b"/>
<circle cx="177.3" cy="355.5" r="4.4" fill="#a3cca3"/>
<rect x="176" y="353.7" width="2.6" height="2.6" fill="#f4fff4"/>
<circle cx="196.7" cy="348.1" r="5.8" fill="#0b7a0b"/>
<circle cx="194.7" cy="345.7" r="6.4" fill="#0b7a0b"/>
<circle cx="194.2" cy="344.9" r="4.4" fill="#a3cca3"/>
<rect x="192.9" y="343.1" width="2.6" height="2.6" fill="#f4fff4"/>
<circle cx="212.6" cy="340.7" r="5.8" fill="#0b7a0b"/>
<circle cx="210.6" cy="338.3" r="6.4" fill="#0b7a0b"/>
<circle cx="210.1" cy="337.5" r="4.4" fill="#a3cca3"/>
<rect x="208.8" y="335.7" width="2.6" height="2.6" fill="#f4fff4"/>
<circle cx="230.6" cy="338.6" r="5.8" fill="#0b7a0b"/>
<circle cx="228.6" cy="336.2" r="6.4" fill="#0b7a0b"/>
<circle cx="228.1" cy="335.4" r="4.4" fill="#a3cca3"/>
<rect x="226.8" y="333.6" width="2.6" height="2.6" fill="#f4fff4"/>
<circle cx="248.7" cy="340.7" r="5.8" fill="#0b7a0b"/>
<circle cx="246.7" cy="338.3" r="6.4" fill="#0b7a0b"/>
<circle cx="246.2" cy="337.5" r="4.4" fill="#a3cca3"/>
<rect x="244.9" y="335.7" width="2.6" height="2.6" fill="#f4fff4"/>
<circle cx="266.7" cy="348.1" r="5.8" fill="#0b7a0b"/>
<circle cx="264.7" cy="345.7" r="6.4" fill="#0b7a0b"/>
<circle cx="264.2" cy="344.9" r="4.4" fill="#a3cca3"/>
<rect x="262.9" y="343.1" width="2.6" height="2.6" fill="#f4fff4"/>
<circle cx="280.4" cy="357.7" r="5.8" fill="#0b7a0b"/>
<circle cx="278.4" cy="355.3" r="6.4" fill="#0b7a0b"/>
<circle cx="277.9" cy="354.5" r="4.4" fill="#a3cca3"/>
<rect x="276.6" y="352.7" width="2.6" height="2.6" fill="#f4fff4"/>
<circle cx="291" cy="368.2" r="5.8" fill="#0b7a0b"/>
<circle cx="289" cy="365.8" r="6.4" fill="#0b7a0b"/>
<circle cx="288.5" cy="365" r="4.4" fill="#a3cca3"/>
<rect x="287.2" y="363.2" width="2.6" height="2.6" fill="#f4fff4"/>
<circle cx="300.6" cy="379.9" r="5.8" fill="#0b7a0b"/>
<circle cx="298.6" cy="377.5" r="6.4" fill="#0b7a0b"/>
<circle cx="298.1" cy="376.7" r="4.4" fill="#a3cca3"/>
<rect x="296.8" y="374.9" width="2.6" height="2.6" fill="#f4fff4"/>
<circle cx="309" cy="391.6" r="5.8" fill="#0b7a0b"/>
<circle cx="307" cy="389.2" r="6.4" fill="#0b7a0b"/>
<circle cx="306.5" cy="388.4" r="4.4" fill="#a3cca3"/>
<rect x="305.2" y="386.6" width="2.6" height="2.6" fill="#f4fff4"/>
<circle cx="314.3" cy="402.1" r="5.8" fill="#0b7a0b"/>
<circle cx="312.3" cy="399.7" r="6.4" fill="#0b7a0b"/>
<circle cx="311.8" cy="398.9" r="4.4" fill="#a3cca3"/>
<rect x="310.5" y="397.1" width="2.6" height="2.6" fill="#f4fff4"/>
<circle cx="319.6" cy="410.6" r="5.8" fill="#0b7a0b"/>
<circle cx="317.6" cy="408.2" r="6.4" fill="#0b7a0b"/>
<circle cx="317.1" cy="407.4" r="4.4" fill="#a3cca3"/>
<rect x="315.8" y="405.6" width="2.6" height="2.6" fill="#f4fff4"/>
<circle cx="323.9" cy="419.1" r="5.8" fill="#0b7a0b"/>
<circle cx="321.9" cy="416.7" r="6.4" fill="#0b7a0b"/>
<circle cx="321.4" cy="415.9" r="4.4" fill="#a3cca3"/>
<rect x="320.1" y="414.1" width="2.6" height="2.6" fill="#f4fff4"/>
<circle cx="326" cy="422.25" r="5.8" fill="#0b7a0b"/>
<circle cx="324" cy="419.85" r="6.4" fill="#0b7a0b"/>
<circle cx="323.5" cy="419.05" r="4.4" fill="#a3cca3"/>
<rect x="322.2" y="417.25" width="2.6" height="2.6" fill="#f4fff4"/>
<circle cx="328.1" cy="425.4" r="5.8" fill="#0b7a0b"/>
<circle cx="326.1" cy="423" r="6.4" fill="#0b7a0b"/>
<circle cx="325.6" cy="422.2" r="4.4" fill="#a3cca3"/>
<rect x="324.3" y="420.4" width="2.6" height="2.6" fill="#f4fff4"/>
<circle cx="330.75" cy="430.7" r="5.8" fill="#0b7a0b"/>
<circle cx="328.75" cy="428.3" r="6.4" fill="#0b7a0b"/>
<circle cx="328.25" cy="427.5" r="4.4" fill="#a3cca3"/>
<rect x="326.95" y="425.7" width="2.6" height="2.6" fill="#f4fff4"/>
<circle cx="333.4" cy="436" r="5.8" fill="#0b7a0b"/>
<circle cx="331.4" cy="433.6" r="6.4" fill="#0b7a0b"/>
<circle cx="330.9" cy="432.8" r="4.4" fill="#a3cca3"/>
<rect x="329.6" y="431" width="2.6" height="2.6" fill="#f4fff4"/>
<circle cx="337.1" cy="440.25" r="5.8" fill="#0b7a0b"/>
<circle cx="335.1" cy="437.85" r="6.4" fill="#0b7a0b"/>
<circle cx="334.6" cy="437.05" r="4.4" fill="#a3cca3"/>
<rect x="333.3" y="435.25" width="2.6" height="2.6" fill="#f4fff4"/>
<circle cx="340.8" cy="444.5" r="5.8" fill="#0b7a0b"/>
<circle cx="338.8" cy="442.1" r="6.4" fill="#0b7a0b"/>
<circle cx="338.3" cy="441.3" r="4.4" fill="#a3cca3"/>
<rect x="337" y="439.5" width="2.6" height="2.6" fill="#f4fff4"/>
<circle cx="344" cy="439.2" r="5.8" fill="#0b7a0b"/>
<circle cx="342" cy="436.8" r="6.4" fill="#0b7a0b"/>
<circle cx="341.5" cy="436" r="4.4" fill="#a3cca3"/>
<rect x="340.2" y="434.2" width="2.6" height="2.6" fill="#f4fff4"/>
<circle cx="347.2" cy="433.9" r="5.8" fill="#0b7a0b"/>
<circle cx="345.2" cy="431.5" r="6.4" fill="#0b7a0b"/>
<circle cx="344.7" cy="430.7" r="4.4" fill="#a3cca3"/>
<rect x="343.4" y="428.9" width="2.6" height="2.6" fill="#f4fff4"/>
<circle cx="349.35" cy="428.4" r="5.8" fill="#0b7a0b"/>
<circle cx="347.35" cy="426" r="6.4" fill="#0b7a0b"/>
<circle cx="346.85" cy="425.2" r="4.4" fill="#a3cca3"/>
<rect x="345.55" y="423.4" width="2.6" height="2.6" fill="#f4fff4"/>
<circle cx="351.5" cy="422.9" r="5.8" fill="#0b7a0b"/>
<circle cx="349.5" cy="420.5" r="6.4" fill="#0b7a0b"/>
<circle cx="349" cy="419.7" r="4.4" fill="#a3cca3"/>
<rect x="347.7" y="417.9" width="2.6" height="2.6" fill="#f4fff4"/>
<circle cx="353.55" cy="417.8" r="5.8" fill="#0b7a0b"/>
<circle cx="351.55" cy="415.4" r="6.4" fill="#0b7a0b"/>
<circle cx="351.05" cy="414.6" r="4.4" fill="#a3cca3"/>
<rect x="349.75" y="412.8" width="2.6" height="2.6" fill="#f4fff4"/>
<circle cx="355.6" cy="412.7" r="5.8" fill="#0b7a0b"/>
<circle cx="353.6" cy="410.3" r="6.4" fill="#0b7a0b"/>
<circle cx="353.1" cy="409.5" r="4.4" fill="#a3cca3"/>
<rect x="351.8" y="407.7" width="2.6" height="2.6" fill="#f4fff4"/>
<circle cx="360.9" cy="402.1" r="5.8" fill="#0b7a0b"/>
<circle cx="358.9" cy="399.7" r="6.4" fill="#0b7a0b"/>
<circle cx="358.4" cy="398.9" r="4.4" fill="#a3cca3"/>
<rect x="357.1" y="397.1" width="2.6" height="2.6" fill="#f4fff4"/>
<circle cx="368.4" cy="384.1" r="5.8" fill="#0b7a0b"/>
<circle cx="366.4" cy="381.7" r="6.4" fill="#0b7a0b"/>
<circle cx="365.9" cy="380.9" r="4.4" fill="#a3cca3"/>
<rect x="364.6" y="379.1" width="2.6" height="2.6" fill="#f4fff4"/>
<circle cx="373.6" cy="372.5" r="5.8" fill="#0b7a0b"/>
<circle cx="371.6" cy="370.1" r="6.4" fill="#0b7a0b"/>
<circle cx="371.1" cy="369.3" r="4.4" fill="#a3cca3"/>
<rect x="369.8" y="367.5" width="2.6" height="2.6" fill="#f4fff4"/>
<circle cx="377.9" cy="358.7" r="5.8" fill="#0b7a0b"/>
<circle cx="375.9" cy="356.3" r="6.4" fill="#0b7a0b"/>
<circle cx="375.4" cy="355.5" r="4.4" fill="#a3cca3"/>
<rect x="374.1" y="353.7" width="2.6" height="2.6" fill="#f4fff4"/>
<circle cx="387.4" cy="344.9" r="5.8" fill="#0b7a0b"/>
<circle cx="385.4" cy="342.5" r="6.4" fill="#0b7a0b"/>
<circle cx="384.9" cy="341.7" r="4.4" fill="#a3cca3"/>
<rect x="383.6" y="339.9" width="2.6" height="2.6" fill="#f4fff4"/>
<g>
<line x1="182" y1="104.7" x2="193.5" y2="104.7" stroke="#3a3a3a" stroke-width="1.3" stroke-linecap="butt"/>
<line x1="231.4" y1="104.7" x2="243.2" y2="104.7" stroke="#3a3a3a" stroke-width="1.3" stroke-linecap="butt"/>
<line x1="243.2" y1="62.3" x2="243.2" y2="146" stroke="#3a3a3a" stroke-width="1.3" stroke-linecap="butt"/>
<line x1="243.2" y1="62.3" x2="305.9" y2="62.3" stroke="#3a3a3a" stroke-width="1.3" stroke-linecap="butt"/>
<line x1="313.8" y1="62.3" x2="388.4" y2="62.3" stroke="#3a3a3a" stroke-width="1.3" stroke-linecap="butt"/>
<line x1="388.4" y1="62.3" x2="388.4" y2="146" stroke="#3a3a3a" stroke-width="1.3" stroke-linecap="butt"/>
<line x1="388.4" y1="104.7" x2="449.5" y2="104.7" stroke="#3a3a3a" stroke-width="1.3" stroke-linecap="butt"/>
<line x1="243.2" y1="146" x2="255" y2="146" stroke="#3a3a3a" stroke-width="1.3" stroke-linecap="butt"/>
<line x1="292.1" y1="146" x2="328.6" y2="146" stroke="#3a3a3a" stroke-width="1.3" stroke-linecap="butt"/>
<line x1="377" y1="146" x2="388.4" y2="146" stroke="#3a3a3a" stroke-width="1.3" stroke-linecap="butt"/>
<line x1="305.9" y1="51.4" x2="305.9" y2="74.1" stroke="#3a3a3a" stroke-width="2" stroke-linecap="butt"/>
<line x1="313.8" y1="51.4" x2="313.8" y2="74.1" stroke="#3a3a3a" stroke-width="2" stroke-linecap="butt"/>
<rect x="193.5" y="98.2" width="37.9" height="13.4" fill="#ecece6" stroke="#3a3a3a" stroke-width="1.6"/>
<rect x="255" y="139.6" width="37.1" height="13.6" fill="#ecece6" stroke="#3a3a3a" stroke-width="1.6"/>
<path d="M328.6 146 L334.5 139.6 L346.4 152.8 L359.2 139.6 L373 152.8 L377 146" stroke="#3a3a3a" stroke-width="1.5" fill="none" stroke-linejoin="miter" stroke-linecap="butt" />
<circle cx="177.7" cy="104.7" r="4.2" fill="#fff" stroke="#3a3a3a" stroke-width="1.3"/>
<circle cx="453.8" cy="104.7" r="4.2" fill="#fff" stroke="#3a3a3a" stroke-width="1.3"/>
<circle cx="243.2" cy="104.7" r="1.6" fill="#3a3a3a"/>
<circle cx="388.4" cy="104.7" r="1.6" fill="#3a3a3a"/>
<text x="299.16" y="40.37" font-family="'Liberation Sans', Arial, sans-serif" font-weight="bold" font-size="23.73" fill="#151515" textLength="14.8" lengthAdjust="spacingAndGlyphs">C</text>
<text x="314.33" y="46.36" font-family="'Liberation Sans', Arial, sans-serif" font-weight="bold" font-size="14.84" fill="#151515" textLength="10.18" lengthAdjust="spacingAndGlyphs">dl</text>
<text x="200.84" y="88.9" font-family="'Liberation Sans', Arial, sans-serif" font-weight="bold" font-size="28.63" fill="#151515" textLength="16.84" lengthAdjust="spacingAndGlyphs">R</text>
<text x="217.38" y="93.66" font-family="'Liberation Sans', Arial, sans-serif" font-weight="bold" font-size="14.41" fill="#151515" textLength="6.6" lengthAdjust="spacingAndGlyphs">s</text>
<text x="265.01" y="178.6" font-family="'Liberation Sans', Arial, sans-serif" font-weight="bold" font-size="27.18" fill="#151515" textLength="16.04" lengthAdjust="spacingAndGlyphs">R</text>
<text x="281.64" y="184.55" font-family="'Liberation Sans', Arial, sans-serif" font-weight="bold" font-size="15.56" fill="#151515" textLength="10.51" lengthAdjust="spacingAndGlyphs">ct</text>
<text x="343.6" y="178.6" font-family="'Liberation Sans', Arial, sans-serif" font-weight="bold" font-size="27.18" fill="#151515" textLength="14.38" lengthAdjust="spacingAndGlyphs">Z</text>
<text x="358.03" y="184.7" font-family="'Liberation Sans', Arial, sans-serif" font-weight="bold" font-size="14.39" fill="#151515" textLength="8.75" lengthAdjust="spacingAndGlyphs">w</text>
</g>
<line x1="466.7" y1="32.3" x2="531.3" y2="32.3" stroke="#000" stroke-width="3" stroke-linecap="butt"/>
<g transform="translate(539.1,0) scale(0.977,1) translate(-539.1,0)"><text x="537.32" y="42.4" font-family="'Liberation Serif', 'Times New Roman', serif" font-weight="bold" font-size="36.5" fill="#000">Cu<tspan font-size="21" dy="11.7" dx="0.5">2</tspan><tspan dy="-11.7" dx="0.6">Se</tspan></text></g>
<line x1="466.7" y1="85.7" x2="531.3" y2="85.7" stroke="#f00" stroke-width="3" stroke-linecap="butt"/>
<g transform="translate(539.1,0) scale(0.977,1) translate(-539.1,0)"><text x="537.32" y="96.6" font-family="'Liberation Serif', 'Times New Roman', serif" font-weight="bold" font-size="36.5" fill="#000">Cu<tspan font-size="21" dy="11.7" dx="0.5">2</tspan><tspan dy="-11.7" dx="0.6">Se/LDH-3%</tspan></text></g>
<line x1="466.7" y1="139.8" x2="531.3" y2="139.8" stroke="#007f00" stroke-width="3" stroke-linecap="butt"/>
<g transform="translate(539.1,0) scale(0.977,1) translate(-539.1,0)"><text x="537.32" y="150.6" font-family="'Liberation Serif', 'Times New Roman', serif" font-weight="bold" font-size="36.5" fill="#000">Cu<tspan font-size="21" dy="11.7" dx="0.5">2</tspan><tspan dy="-11.7" dx="0.6">Se/LDH-6%</tspan></text></g>
<line x1="466.7" y1="193.7" x2="531.3" y2="193.7" stroke="#00f" stroke-width="3" stroke-linecap="butt"/>
<g transform="translate(539.1,0) scale(0.977,1) translate(-539.1,0)"><text x="537.32" y="204.4" font-family="'Liberation Serif', 'Times New Roman', serif" font-weight="bold" font-size="36.5" fill="#000">Cu<tspan font-size="21" dy="11.7" dx="0.5">2</tspan><tspan dy="-11.7" dx="0.6">Se/LDH-9%</tspan></text></g>
<path d="M496.3 24 L501.5 24 L503.5 26 L503.5 30 L506.8 30 L506.8 38 L503 40 L499 42 L496 41 L496 38.5 L490 38 L490 30 L496.3 30 Z" fill="#000"/>
<rect x="496.5" y="33.5" width="6.5" height="4.5" fill="#fff"/><circle cx="497.8" cy="36" r="0.6" fill="#000"/><circle cx="501.6" cy="36" r="0.6" fill="#000"/>
<path d="M488.7 87.5 L508.2 87.5 L498.5 97 Z M493 80.6 L497 75.9 L499.5 75.9 L503.8 80.4 L503.8 87.5 L496.2 87.5 L496.2 80.6 Z" fill="#f00"/>
<path d="M491 137 L494 133 L497 132.2 L500 133 L501 135 L504 134 L507 138 L507 143 L505 147 L503.5 144 L496 144.5 L495 147.7 L491.5 145 L490 141 Z" fill="#0b7a0b"/>
<rect x="492.5" y="133.5" width="7.5" height="6.5" rx="1" fill="#9cc79c"/><rect x="496" y="136" width="1.5" height="1.5" fill="#fff"/>
<path d="M497 184 L499.5 186 L500.5 189.8 L508 189.8 L508 194.5 L503 195 L505 199 L505 202.7 L503 202 L500 198.5 L493 198.5 L493 194.5 L489 194.5 L489 189.8 L495.5 189.8 Z" fill="#00f"/>
<rect x="500" y="191" width="3" height="1.5" fill="#fff"/><rect x="494" y="195.5" width="5" height="1.5" fill="#fff"/>
<rect x="877.8" y="5" width="691.7" height="525.1" fill="none" stroke="#000" stroke-width="4" stroke-linejoin="miter"/>
<line x1="877.8" y1="513.8" x2="889.3" y2="513.8" stroke="#000" stroke-width="3.8" stroke-linecap="round"/>
<line x1="877.8" y1="357.25" x2="889.3" y2="357.25" stroke="#000" stroke-width="3.8" stroke-linecap="round"/>
<line x1="877.8" y1="200.7" x2="889.3" y2="200.7" stroke="#000" stroke-width="3.8" stroke-linecap="round"/>
<line x1="877.8" y1="44.15" x2="889.3" y2="44.15" stroke="#000" stroke-width="3.8" stroke-linecap="round"/>
<line x1="877.8" y1="435.52" x2="884.3" y2="435.52" stroke="#000" stroke-width="3.6" stroke-linecap="round"/>
<line x1="877.8" y1="278.97" x2="884.3" y2="278.97" stroke="#000" stroke-width="3.6" stroke-linecap="round"/>
<line x1="877.8" y1="122.42" x2="884.3" y2="122.42" stroke="#000" stroke-width="3.6" stroke-linecap="round"/>
<line x1="886.5" y1="530.1" x2="886.5" y2="529.1" stroke="#000" stroke-width="2.4" stroke-linecap="round"/>
<line x1="935.9" y1="530.1" x2="935.9" y2="529.1" stroke="#000" stroke-width="2.4" stroke-linecap="round"/>
<line x1="984.9" y1="530.1" x2="984.9" y2="529.1" stroke="#000" stroke-width="2.4" stroke-linecap="round"/>
<line x1="1034.3" y1="530.1" x2="1034.3" y2="529.1" stroke="#000" stroke-width="2.4" stroke-linecap="round"/>
<line x1="1082.6" y1="530.1" x2="1082.6" y2="529.1" stroke="#000" stroke-width="2.4" stroke-linecap="round"/>
<line x1="1131" y1="530.1" x2="1131" y2="529.1" stroke="#000" stroke-width="2.4" stroke-linecap="round"/>
<line x1="1180.6" y1="530.1" x2="1180.6" y2="529.1" stroke="#000" stroke-width="2.4" stroke-linecap="round"/>
<line x1="1228.8" y1="530.1" x2="1228.8" y2="529.1" stroke="#000" stroke-width="2.4" stroke-linecap="round"/>
<line x1="1277.4" y1="530.1" x2="1277.4" y2="529.1" stroke="#000" stroke-width="2.4" stroke-linecap="round"/>
<line x1="1324.7" y1="530.1" x2="1324.7" y2="529.1" stroke="#000" stroke-width="2.4" stroke-linecap="round"/>
<line x1="1374.6" y1="530.1" x2="1374.6" y2="529.1" stroke="#000" stroke-width="2.4" stroke-linecap="round"/>
<line x1="1423.2" y1="530.1" x2="1423.2" y2="529.1" stroke="#000" stroke-width="2.4" stroke-linecap="round"/>
<line x1="1473" y1="530.1" x2="1473" y2="529.1" stroke="#000" stroke-width="2.4" stroke-linecap="round"/>
<line x1="1521.7" y1="530.1" x2="1521.7" y2="529.1" stroke="#000" stroke-width="2.4" stroke-linecap="round"/>
<text x="849.83" y="525.4" font-family="'Liberation Serif', 'Times New Roman', serif" font-weight="bold" font-size="35" fill="#000">0</text>
<text x="850.31" y="368.85" font-family="'Liberation Serif', 'Times New Roman', serif" font-weight="bold" font-size="35" fill="#000">1</text>
<text x="850" y="212.3" font-family="'Liberation Serif', 'Times New Roman', serif" font-weight="bold" font-size="35" fill="#000">2</text>
<text x="849.7" y="55.75" font-family="'Liberation Serif', 'Times New Roman', serif" font-weight="bold" font-size="35" fill="#000">3</text>
<text x="932.52" y="564.2" font-family="'Liberation Serif', 'Times New Roman', serif" font-weight="bold" font-size="35.5" fill="#000">1</text>
<text x="1082.56" y="564.2" font-family="'Liberation Serif', 'Times New Roman', serif" font-weight="bold" font-size="35.5" fill="#000">5</text>
<text x="1221.94" y="564.2" font-family="'Liberation Serif', 'Times New Roman', serif" font-weight="bold" font-size="35.5" fill="#000">7</text>
<text x="1363.28" y="564.2" font-family="'Liberation Serif', 'Times New Roman', serif" font-weight="bold" font-size="35.5" fill="#000">9</text>
<text x="1497.24" y="564.2" font-family="'Liberation Serif', 'Times New Roman', serif" font-weight="bold" font-size="35.5" fill="#000">13</text>
<text x="1197.26" y="604.9" font-family="'Liberation Serif', 'Times New Roman', serif" font-weight="bold" font-size="44" fill="#000" textLength="60.47" lengthAdjust="spacingAndGlyphs">PH</text>
<text x="893.36" y="60.6" font-family="'Liberation Serif', 'Times New Roman', serif" font-weight="bold" font-size="57" fill="#f00" textLength="37.61" lengthAdjust="spacingAndGlyphs">B</text>
<g transform="translate(843.5,527.1) rotate(-90)">
<text x="-0.76" y="0" font-family="'Liberation Serif', 'Times New Roman', serif" font-weight="bold" font-size="45.5" fill="#000" textLength="403.01" lengthAdjust="spacingAndGlyphs">Photocurrent (μA.cm</text>
</g>
<g transform="translate(830.6,122.9) rotate(-90)">
<text x="-1.63" y="0" font-family="'Liberation Serif', 'Times New Roman', serif" font-weight="bold" font-size="46" fill="#000" textLength="37.15" lengthAdjust="spacingAndGlyphs">-2</text>
</g>
<g transform="translate(843.5,86.8) rotate(-90)">
<text x="-1.59" y="0" font-family="'Liberation Serif', 'Times New Roman', serif" font-weight="bold" font-size="43" fill="#000" textLength="16.47" lengthAdjust="spacingAndGlyphs">)</text>
</g>
<path d="M886.5 510.7 L926.6 510.7 L926.6 197.5 C936 201.5 950 206.5 968.9 208.6 L968.6 495.8 C980 500 992 502 1005.4 503.4" stroke="#000" stroke-width="3.5" fill="none" stroke-linejoin="round" stroke-linecap="round" />
<path d="M1037.3 499.2 C1052 502 1064 504 1077.3 504.8 L1077.3 162.5 C1090 171 1104 178 1120.8 181.4 L1120.8 510.7 L1156 512.3" stroke="#f00" stroke-width="3.5" fill="none" stroke-linejoin="round" stroke-linecap="round" />
<path d="M1173 511.6 L1212.5 511.5 L1212.5 73 L1251.8 72.9 L1251.8 511.5 L1291.5 511.5" stroke="#00f" stroke-width="3.5" fill="none" stroke-linejoin="round" stroke-linecap="round" />
<path d="M1312 510.5 L1351.6 510.5 L1351.6 113.8 Q1370 116 1390.5 115.6 L1390.5 511.5 L1430.4 511.5" stroke="#f0f" stroke-width="3.5" fill="none" stroke-linejoin="round" stroke-linecap="round" />
<path d="M1443.7 508 L1484 509.2 L1483.3 97.2 Q1502 99.5 1522.4 99 L1522.4 511.8 L1562 513" stroke="#007f00" stroke-width="3.5" fill="none" stroke-linejoin="round" stroke-linecap="round" />
<rect x="76.6" y="664.6" width="717.3" height="557.9" fill="none" stroke="#000" stroke-width="4.2" stroke-linejoin="miter"/>
<line x1="76.6" y1="1171.6" x2="88.6" y2="1171.6" stroke="#000" stroke-width="4" stroke-linecap="round"/>
<line x1="76.6" y1="968.7" x2="88.6" y2="968.7" stroke="#000" stroke-width="4" stroke-linecap="round"/>
<line x1="76.6" y1="765.8" x2="88.6" y2="765.8" stroke="#000" stroke-width="4" stroke-linecap="round"/>
<line x1="76.6" y1="1070.15" x2="83.6" y2="1070.15" stroke="#000" stroke-width="3.8" stroke-linecap="round"/>
<line x1="76.6" y1="867.25" x2="83.6" y2="867.25" stroke="#000" stroke-width="3.8" stroke-linecap="round"/>
<line x1="127.9" y1="1222.5" x2="127.9" y2="1209.5" stroke="#000" stroke-width="4" stroke-linecap="round"/>
<line x1="127.9" y1="664.6" x2="127.9" y2="666.1" stroke="#000" stroke-width="2.5" stroke-linecap="round"/>
<line x1="230.33" y1="1222.5" x2="230.33" y2="1209.5" stroke="#000" stroke-width="4" stroke-linecap="round"/>
<line x1="230.33" y1="664.6" x2="230.33" y2="666.1" stroke="#000" stroke-width="2.5" stroke-linecap="round"/>
<line x1="332.76" y1="1222.5" x2="332.76" y2="1209.5" stroke="#000" stroke-width="4" stroke-linecap="round"/>
<line x1="332.76" y1="664.6" x2="332.76" y2="666.1" stroke="#000" stroke-width="2.5" stroke-linecap="round"/>
<line x1="435.19" y1="1222.5" x2="435.19" y2="1209.5" stroke="#000" stroke-width="4" stroke-linecap="round"/>
<line x1="435.19" y1="664.6" x2="435.19" y2="666.1" stroke="#000" stroke-width="2.5" stroke-linecap="round"/>
<line x1="537.62" y1="1222.5" x2="537.62" y2="1209.5" stroke="#000" stroke-width="4" stroke-linecap="round"/>
<line x1="537.62" y1="664.6" x2="537.62" y2="666.1" stroke="#000" stroke-width="2.5" stroke-linecap="round"/>
<line x1="640.05" y1="1222.5" x2="640.05" y2="1209.5" stroke="#000" stroke-width="4" stroke-linecap="round"/>
<line x1="640.05" y1="664.6" x2="640.05" y2="666.1" stroke="#000" stroke-width="2.5" stroke-linecap="round"/>
<line x1="742.48" y1="1222.5" x2="742.48" y2="1209.5" stroke="#000" stroke-width="4" stroke-linecap="round"/>
<line x1="742.48" y1="664.6" x2="742.48" y2="666.1" stroke="#000" stroke-width="2.5" stroke-linecap="round"/>
<line x1="179.12" y1="1222.5" x2="179.12" y2="1215.5" stroke="#000" stroke-width="3.8" stroke-linecap="round"/>
<line x1="179.12" y1="664.6" x2="179.12" y2="666.1" stroke="#000" stroke-width="2.5" stroke-linecap="round"/>
<line x1="281.54" y1="1222.5" x2="281.54" y2="1215.5" stroke="#000" stroke-width="3.8" stroke-linecap="round"/>
<line x1="281.54" y1="664.6" x2="281.54" y2="666.1" stroke="#000" stroke-width="2.5" stroke-linecap="round"/>
<line x1="383.98" y1="1222.5" x2="383.98" y2="1215.5" stroke="#000" stroke-width="3.8" stroke-linecap="round"/>
<line x1="383.98" y1="664.6" x2="383.98" y2="666.1" stroke="#000" stroke-width="2.5" stroke-linecap="round"/>
<line x1="486.4" y1="1222.5" x2="486.4" y2="1215.5" stroke="#000" stroke-width="3.8" stroke-linecap="round"/>
<line x1="486.4" y1="664.6" x2="486.4" y2="666.1" stroke="#000" stroke-width="2.5" stroke-linecap="round"/>
<line x1="588.83" y1="1222.5" x2="588.83" y2="1215.5" stroke="#000" stroke-width="3.8" stroke-linecap="round"/>
<line x1="588.83" y1="664.6" x2="588.83" y2="666.1" stroke="#000" stroke-width="2.5" stroke-linecap="round"/>
<line x1="691.26" y1="1222.5" x2="691.26" y2="1215.5" stroke="#000" stroke-width="3.8" stroke-linecap="round"/>
<line x1="691.26" y1="664.6" x2="691.26" y2="666.1" stroke="#000" stroke-width="2.5" stroke-linecap="round"/>
<text x="46.94" y="1183.9" font-family="'Liberation Serif', 'Times New Roman', serif" font-weight="bold" font-size="36.5" fill="#000">1</text>
<text x="46.62" y="981" font-family="'Liberation Serif', 'Times New Roman', serif" font-weight="bold" font-size="36.5" fill="#000">2</text>
<text x="46.3" y="778.1" font-family="'Liberation Serif', 'Times New Roman', serif" font-weight="bold" font-size="36.5" fill="#000">3</text>
<text x="100.25" y="1262.8" font-family="'Liberation Serif', 'Times New Roman', serif" font-weight="bold" font-size="37.5" fill="#000" textLength="55.21" lengthAdjust="spacingAndGlyphs">-0.3</text>
<text x="202.84" y="1262.8" font-family="'Liberation Serif', 'Times New Roman', serif" font-weight="bold" font-size="37.5" fill="#000" textLength="55.21" lengthAdjust="spacingAndGlyphs">-0.2</text>
<text x="305.42" y="1262.8" font-family="'Liberation Serif', 'Times New Roman', serif" font-weight="bold" font-size="37.5" fill="#000" textLength="55.21" lengthAdjust="spacingAndGlyphs">-0.1</text>
<text x="413.39" y="1262.8" font-family="'Liberation Serif', 'Times New Roman', serif" font-weight="bold" font-size="37.5" fill="#000" textLength="43.59" lengthAdjust="spacingAndGlyphs">0.0</text>
<text x="516.06" y="1262.8" font-family="'Liberation Serif', 'Times New Roman', serif" font-weight="bold" font-size="37.5" fill="#000" textLength="43.59" lengthAdjust="spacingAndGlyphs">0.1</text>
<text x="618.34" y="1262.8" font-family="'Liberation Serif', 'Times New Roman', serif" font-weight="bold" font-size="37.5" fill="#000" textLength="43.59" lengthAdjust="spacingAndGlyphs">0.2</text>
<text x="720.62" y="1262.8" font-family="'Liberation Serif', 'Times New Roman', serif" font-weight="bold" font-size="37.5" fill="#000" textLength="43.59" lengthAdjust="spacingAndGlyphs">0.3</text>
<text x="282.13" y="1311.3" font-family="'Liberation Serif', 'Times New Roman', serif" font-weight="bold" font-size="46.5" fill="#000" textLength="341.65" lengthAdjust="spacingAndGlyphs">Potential(vs.SCE)</text>
<text x="84.64" y="729" font-family="'Liberation Serif', 'Times New Roman', serif" font-weight="bold" font-size="65" fill="#f00">C</text>
<g transform="translate(41.5,1189) rotate(-90)">
<text x="-0.8" y="0" font-family="'Liberation Serif', 'Times New Roman', serif" font-weight="bold" font-size="48" fill="#000" textLength="415.6" lengthAdjust="spacingAndGlyphs">Photocurrent(μA.cm</text>
</g>
<g transform="translate(19.7,772) rotate(-90)">
<text x="-1.09" y="0" font-family="'Liberation Serif', 'Times New Roman', serif" font-weight="normal" font-size="28" fill="#000" textLength="24.52" lengthAdjust="spacingAndGlyphs">-2</text>
</g>
<g transform="translate(41.5,748.1) rotate(-90)">
<text x="-1.66" y="0" font-family="'Liberation Serif', 'Times New Roman', serif" font-weight="bold" font-size="46" fill="#000" textLength="17.11" lengthAdjust="spacingAndGlyphs">)</text>
</g>
<line x1="132.84" y1="1130.15" x2="224.46" y2="1046.65" stroke="#000" stroke-width="3.6" stroke-linecap="butt"/>
<line x1="236.67" y1="1038.16" x2="325.93" y2="992.14" stroke="#000" stroke-width="3.6" stroke-linecap="butt"/>
<line x1="338.53" y1="984.1" x2="429.17" y2="913.8" stroke="#000" stroke-width="3.6" stroke-linecap="butt"/>
<line x1="440.15" y1="903.65" x2="532.65" y2="802.05" stroke="#000" stroke-width="3.6" stroke-linecap="butt"/>
<line x1="545.09" y1="795.22" x2="632.81" y2="779.98" stroke="#000" stroke-width="3.6" stroke-linecap="butt"/>
<line x1="647.62" y1="777.59" x2="735.08" y2="764.51" stroke="#000" stroke-width="3.6" stroke-linecap="butt"/>
<rect x="121.6" y="1129.4" width="11.4" height="11.6" fill="#000"/>
<line x1="127.3" y1="1120" x2="127.3" y2="1131.7" stroke="#f00" stroke-width="4" stroke-linecap="round"/>
<line x1="127.3" y1="1138.7" x2="127.3" y2="1150.8" stroke="#f00" stroke-width="4" stroke-linecap="round"/>
<line x1="122.1" y1="1120" x2="132.5" y2="1120" stroke="#f00" stroke-width="4" stroke-linecap="round"/>
<line x1="122.1" y1="1150.8" x2="132.5" y2="1150.8" stroke="#f00" stroke-width="4" stroke-linecap="round"/>
<rect x="224.3" y="1035.8" width="11.4" height="11.6" fill="#000"/>
<line x1="230" y1="1031.2" x2="230" y2="1038.1" stroke="#f00" stroke-width="4" stroke-linecap="round"/>
<line x1="230" y1="1045.1" x2="230" y2="1053" stroke="#f00" stroke-width="4" stroke-linecap="round"/>
<line x1="224.8" y1="1031.2" x2="235.2" y2="1031.2" stroke="#f00" stroke-width="4" stroke-linecap="round"/>
<line x1="224.8" y1="1053" x2="235.2" y2="1053" stroke="#f00" stroke-width="4" stroke-linecap="round"/>
<rect x="326.9" y="982.9" width="11.4" height="11.6" fill="#000"/>
<line x1="332.6" y1="983.3" x2="332.6" y2="985.2" stroke="#f00" stroke-width="4" stroke-linecap="round"/>
<line x1="332.6" y1="992.2" x2="332.6" y2="995" stroke="#f00" stroke-width="4" stroke-linecap="round"/>
<line x1="327.4" y1="983.3" x2="337.8" y2="983.3" stroke="#f00" stroke-width="4" stroke-linecap="round"/>
<line x1="327.4" y1="995" x2="337.8" y2="995" stroke="#f00" stroke-width="4" stroke-linecap="round"/>
<rect x="429.4" y="903.4" width="11.4" height="11.6" fill="#000"/>
<line x1="435.1" y1="900.8" x2="435.1" y2="905.7" stroke="#f00" stroke-width="4" stroke-linecap="round"/>
<line x1="435.1" y1="912.7" x2="435.1" y2="918.6" stroke="#f00" stroke-width="4" stroke-linecap="round"/>
<line x1="429.9" y1="900.8" x2="440.3" y2="900.8" stroke="#f00" stroke-width="4" stroke-linecap="round"/>
<line x1="429.9" y1="918.6" x2="440.3" y2="918.6" stroke="#f00" stroke-width="4" stroke-linecap="round"/>
<rect x="532" y="790.7" width="11.4" height="11.6" fill="#000"/>
<line x1="537.7" y1="779.4" x2="537.7" y2="793" stroke="#f00" stroke-width="4" stroke-linecap="round"/>
<line x1="537.7" y1="800" x2="537.7" y2="813.8" stroke="#f00" stroke-width="4" stroke-linecap="round"/>
<line x1="532.5" y1="779.4" x2="542.9" y2="779.4" stroke="#f00" stroke-width="4" stroke-linecap="round"/>
<line x1="532.5" y1="813.8" x2="542.9" y2="813.8" stroke="#f00" stroke-width="4" stroke-linecap="round"/>
<rect x="634.5" y="772.9" width="11.4" height="11.6" fill="#000"/>
<line x1="640.2" y1="763.4" x2="640.2" y2="775.2" stroke="#f00" stroke-width="4" stroke-linecap="round"/>
<line x1="640.2" y1="782.2" x2="640.2" y2="794.5" stroke="#f00" stroke-width="4" stroke-linecap="round"/>
<line x1="635" y1="763.4" x2="645.4" y2="763.4" stroke="#f00" stroke-width="4" stroke-linecap="round"/>
<line x1="635" y1="794.5" x2="645.4" y2="794.5" stroke="#f00" stroke-width="4" stroke-linecap="round"/>
<rect x="736.8" y="757.6" width="11.4" height="11.6" fill="#000"/>
<line x1="742.5" y1="750.7" x2="742.5" y2="759.9" stroke="#f00" stroke-width="4" stroke-linecap="round"/>
<line x1="742.5" y1="766.9" x2="742.5" y2="775.6" stroke="#f00" stroke-width="4" stroke-linecap="round"/>
<line x1="737.3" y1="750.7" x2="747.7" y2="750.7" stroke="#f00" stroke-width="4" stroke-linecap="round"/>
<line x1="737.3" y1="775.6" x2="747.7" y2="775.6" stroke="#f00" stroke-width="4" stroke-linecap="round"/>
<rect x="882.7" y="666.9" width="686.3" height="558.7" fill="none" stroke="#000" stroke-width="4.2" stroke-linejoin="miter"/>
<line x1="882.7" y1="1213.6" x2="893.7" y2="1213.6" stroke="#000" stroke-width="4" stroke-linecap="round"/>
<line x1="882.7" y1="1094.68" x2="893.7" y2="1094.68" stroke="#000" stroke-width="4" stroke-linecap="round"/>
<line x1="882.7" y1="975.76" x2="893.7" y2="975.76" stroke="#000" stroke-width="4" stroke-linecap="round"/>
<line x1="882.7" y1="856.84" x2="893.7" y2="856.84" stroke="#000" stroke-width="4" stroke-linecap="round"/>
<line x1="882.7" y1="737.92" x2="893.7" y2="737.92" stroke="#000" stroke-width="4" stroke-linecap="round"/>
<line x1="882.7" y1="1154.14" x2="889.2" y2="1154.14" stroke="#000" stroke-width="3.8" stroke-linecap="round"/>
<line x1="882.7" y1="1035.22" x2="889.2" y2="1035.22" stroke="#000" stroke-width="3.8" stroke-linecap="round"/>
<line x1="882.7" y1="916.3" x2="889.2" y2="916.3" stroke="#000" stroke-width="3.8" stroke-linecap="round"/>
<line x1="882.7" y1="797.38" x2="889.2" y2="797.38" stroke="#000" stroke-width="3.8" stroke-linecap="round"/>
<line x1="882.7" y1="678.46" x2="889.2" y2="678.46" stroke="#000" stroke-width="3.8" stroke-linecap="round"/>
<line x1="1038.38" y1="1225.6" x2="1038.38" y2="1214.1" stroke="#000" stroke-width="4" stroke-linecap="round"/>
<line x1="1194.15" y1="1225.6" x2="1194.15" y2="1214.1" stroke="#000" stroke-width="4" stroke-linecap="round"/>
<line x1="1349.92" y1="1225.6" x2="1349.92" y2="1214.1" stroke="#000" stroke-width="4" stroke-linecap="round"/>
<line x1="1505.7" y1="1225.6" x2="1505.7" y2="1214.1" stroke="#000" stroke-width="4" stroke-linecap="round"/>
<line x1="960.49" y1="1225.6" x2="960.49" y2="1219.4" stroke="#000" stroke-width="3.8" stroke-linecap="round"/>
<line x1="1116.26" y1="1225.6" x2="1116.26" y2="1219.4" stroke="#000" stroke-width="3.8" stroke-linecap="round"/>
<line x1="1272.04" y1="1225.6" x2="1272.04" y2="1219.4" stroke="#000" stroke-width="3.8" stroke-linecap="round"/>
<line x1="1427.81" y1="1225.6" x2="1427.81" y2="1219.4" stroke="#000" stroke-width="3.8" stroke-linecap="round"/>
<text x="853.84" y="1225.9" font-family="'Liberation Serif', 'Times New Roman', serif" font-weight="bold" font-size="36.5" fill="#000">0</text>
<text x="854.34" y="1106.98" font-family="'Liberation Serif', 'Times New Roman', serif" font-weight="bold" font-size="36.5" fill="#000">1</text>
<text x="854.02" y="988.06" font-family="'Liberation Serif', 'Times New Roman', serif" font-weight="bold" font-size="36.5" fill="#000">2</text>
<text x="853.7" y="869.14" font-family="'Liberation Serif', 'Times New Roman', serif" font-weight="bold" font-size="36.5" fill="#000">3</text>
<text x="853.13" y="750.22" font-family="'Liberation Serif', 'Times New Roman', serif" font-weight="bold" font-size="36.5" fill="#000">4</text>
<text x="873.85" y="1266.3" font-family="'Liberation Serif', 'Times New Roman', serif" font-weight="bold" font-size="35" fill="#000">0</text>
<text x="1020.84" y="1266.3" font-family="'Liberation Serif', 'Times New Roman', serif" font-weight="bold" font-size="35" fill="#000">50</text>
<text x="1167.17" y="1266.3" font-family="'Liberation Serif', 'Times New Roman', serif" font-weight="bold" font-size="35" fill="#000">100</text>
<text x="1322.94" y="1266.3" font-family="'Liberation Serif', 'Times New Roman', serif" font-weight="bold" font-size="35" fill="#000">150</text>
<text x="1479.38" y="1266.3" font-family="'Liberation Serif', 'Times New Roman', serif" font-weight="bold" font-size="35" fill="#000">200</text>
<text x="1180.62" y="1312.4" font-family="'Liberation Serif', 'Times New Roman', serif" font-weight="bold" font-size="46" fill="#000" textLength="152.48" lengthAdjust="spacingAndGlyphs">Time (s)</text>
<text x="1518.95" y="730.4" font-family="'Liberation Serif', 'Times New Roman', serif" font-weight="bold" font-size="64" fill="#f00" textLength="42.95" lengthAdjust="spacingAndGlyphs">D</text>
<g transform="translate(842.9,1222.9) rotate(-90)">
<text x="-0.8" y="0" font-family="'Liberation Serif', 'Times New Roman', serif" font-weight="bold" font-size="48" fill="#000" textLength="426.2" lengthAdjust="spacingAndGlyphs">Photocurrent (μA.cm</text>
</g>
<g transform="translate(829.6,792.4) rotate(-90)">
<text x="-1.66" y="0" font-family="'Liberation Serif', 'Times New Roman', serif" font-weight="bold" font-size="47" fill="#000" textLength="37.7" lengthAdjust="spacingAndGlyphs">-2</text>
</g>
<g transform="translate(842.9,753.7) rotate(-90)">
<text x="-1.57" y="0" font-family="'Liberation Serif', 'Times New Roman', serif" font-weight="bold" font-size="46" fill="#000" textLength="16.21" lengthAdjust="spacingAndGlyphs">)</text>
</g>
<line x1="905.8" y1="712.5" x2="965.6" y2="712.5" stroke="#00f" stroke-width="4.2" stroke-linecap="round"/>
<line x1="904.5" y1="775.4" x2="965" y2="775.4" stroke="#000" stroke-width="4.2" stroke-linecap="round"/>
<line x1="904.5" y1="848.6" x2="965" y2="848.6" stroke="#f00" stroke-width="4.2" stroke-linecap="round"/>
<text x="972.71" y="722.9" font-family="'Liberation Serif', 'Times New Roman', serif" font-weight="bold" font-size="34.8" fill="#000" textLength="74.84" lengthAdjust="spacingAndGlyphs">Dark</text>
<g transform="translate(972.3,0) scale(0.95,1) translate(-972.3,0)"><text x="970.88" y="785.9" font-family="'Liberation Serif', 'Times New Roman', serif" font-weight="bold" font-size="35.5" fill="#000">500mW.cm<tspan font-size="35" dy="-15.4">-2</tspan></text></g>
<g transform="translate(972.3,0) scale(0.95,1) translate(-972.3,0)"><text x="970.81" y="858" font-family="'Liberation Serif', 'Times New Roman', serif" font-weight="bold" font-size="35.5" fill="#000">250mW.cm<tspan font-size="35" dy="-15.4">-2</tspan></text></g>
<path d="M883.6 1206 L944.91 1208.5 L944.91 881.9 C944.91 874.2 949 874.7 956.6 874.7 Q976.85 877.25 1007.22 884.9 L1007.22 1203.8 L1069.53 1206.6 L1069.53 894.5 C1069.53 884.4 1075.08 884.9 1085.4 884.9 Q1103.98 885.5 1131.84 887.3 L1131.84 1213.2 L1194.15 1213.2 L1194.15 893.9 C1194.15 884 1201.55 884.5 1215.3 884.5 Q1231.76 885.15 1256.46 887.1 L1256.46 1206 L1318.77 1206 L1318.77 891.3 C1318.77 881.5 1327.95 882 1345 882 Q1359.43 882.33 1381.08 883.3 L1381.08 1215.8 L1443.39 1215.8 L1443.39 907.9 C1443.39 898 1452.6 898.5 1469.7 898.5 Q1484.1 898.83 1505.7 899.8 L1505.7 1206.9 L1566.01 1207.5" stroke="#000" stroke-width="3.5" fill="none" stroke-linejoin="miter" stroke-linecap="butt" />
<path d="M883.6 1209.5 L944.91 1210.5 L944.91 1008.6 C944.91 1001.5 949.49 1002 958 1002 Q977.69 1004.83 1007.22 1013.3 L1007.22 1206 L1069.53 1207 L1069.53 1027.5 C1069.53 1021.9 1074.59 1022.4 1084 1022.4 Q1103.14 1024.3 1131.84 1030 L1131.84 1205.6 L1194.15 1206.2 L1194.15 1040.2 C1194.15 1032.9 1197.95 1033.4 1205 1033.4 Q1225.58 1035.62 1256.46 1042.3 L1256.46 1208.2 L1318.77 1208.2 L1318.77 1050.4 C1318.77 1041.8 1322.63 1042.3 1329.8 1042.3 Q1350.31 1044.4 1381.08 1050.7 L1381.08 1207 L1443.39 1207.5 L1443.39 1058.8 C1443.39 1050.7 1447.24 1051.2 1454.4 1051.2 Q1474.92 1053.22 1505.7 1059.3 L1505.7 1207.5 L1566.01 1208" stroke="#f00" stroke-width="4.6" fill="none" stroke-linejoin="miter" stroke-linecap="butt" />
<path d="M883.6 1208.3 L944.91 1208.3 L944.91 1165.6 C944.91 1160.5 953.69 1161 970 1161 Q984.89 1160.38 1007.22 1158.5 L1007.22 1209.3 L1069.53 1209.3 L1069.53 1165.6 C1069.53 1160.3 1076.69 1160.8 1090 1160.8 Q1106.74 1160.72 1131.84 1160.5 L1131.84 1209.4 L1194.15 1209.4 L1194.15 1165.3 C1194.15 1159.5 1201.45 1160 1215 1160 Q1231.58 1159.5 1256.46 1158 L1256.46 1205.6 L1318.77 1205.6 L1318.77 1163.6 C1318.77 1158 1326.2 1158.5 1340 1158.5 Q1356.43 1158 1381.08 1156.5 L1381.08 1211.2 L1443.39 1211.2 L1443.39 1161 C1443.39 1156 1450.95 1156.5 1465 1156.5 Q1481.28 1156.25 1505.7 1155.5 L1505.7 1210 L1566.01 1210.5" stroke="#00f" stroke-width="4.8" fill="none" stroke-linejoin="miter" stroke-linecap="butt" />
</svg></body></html>
